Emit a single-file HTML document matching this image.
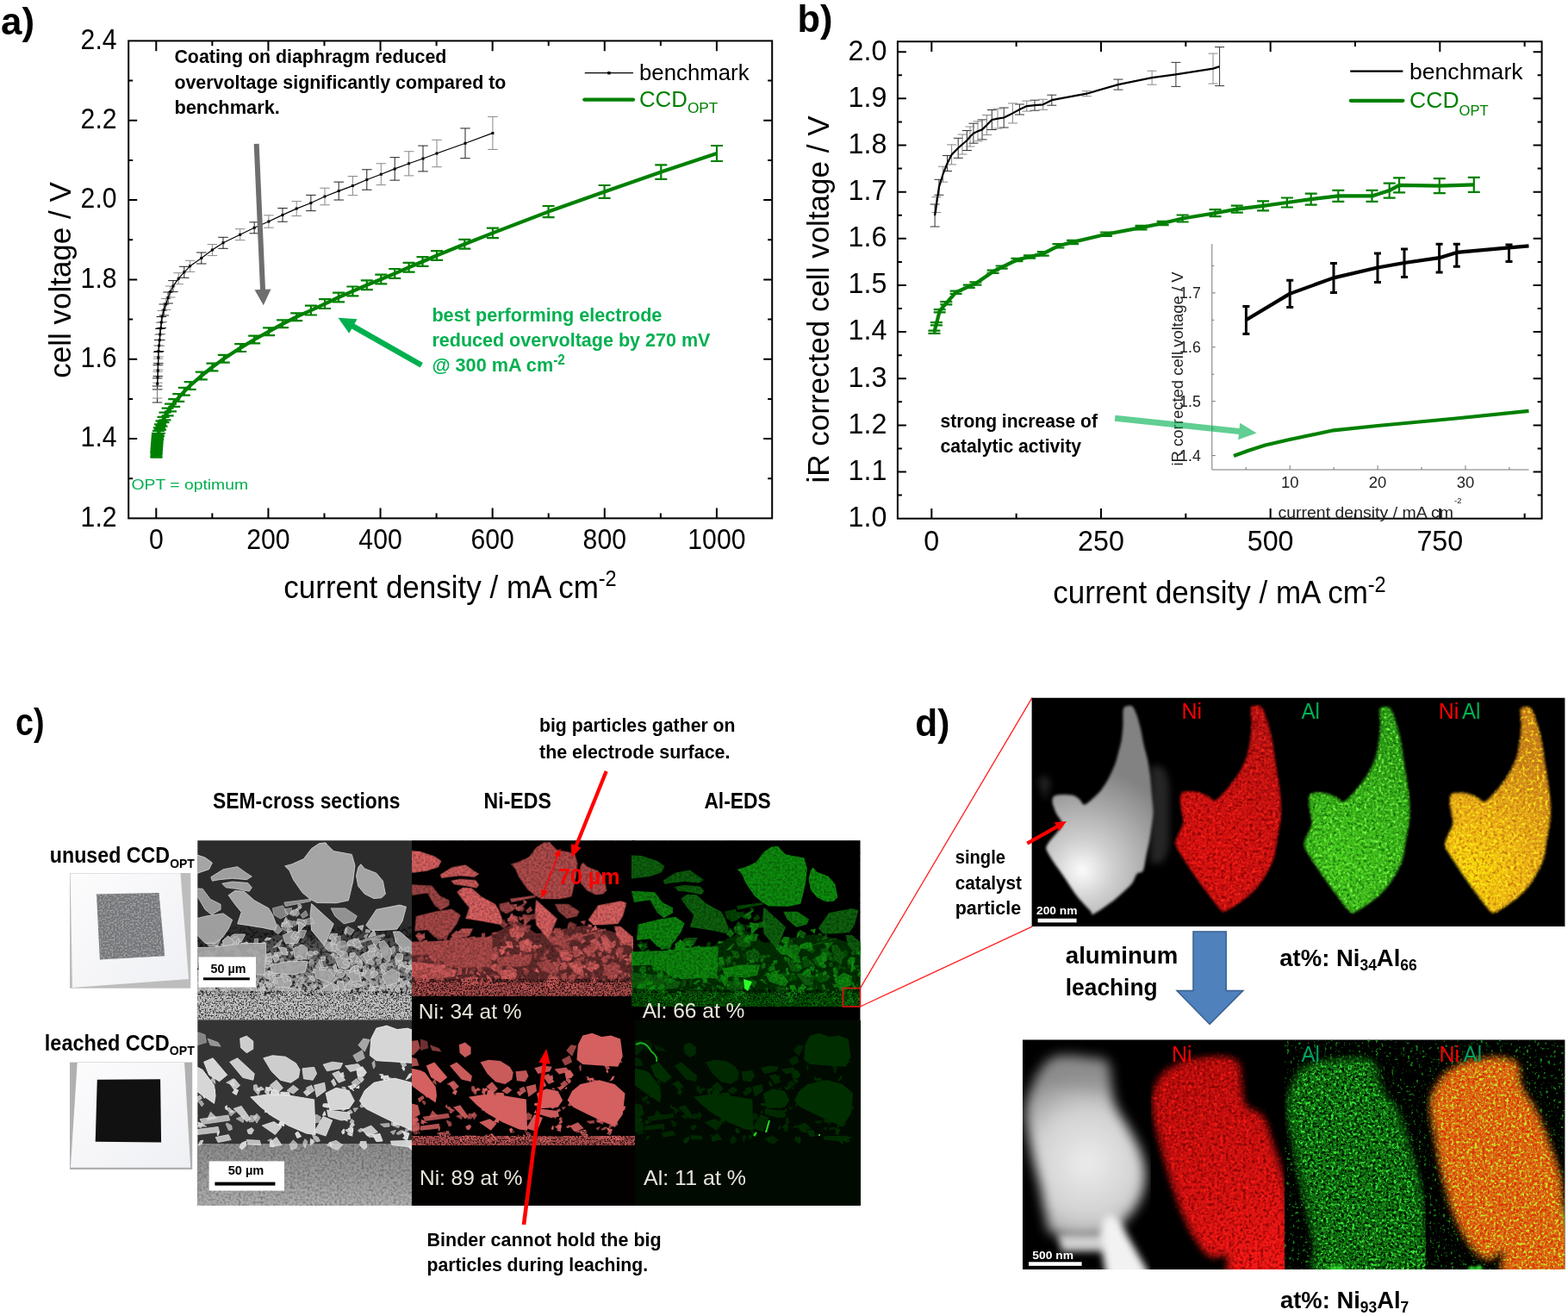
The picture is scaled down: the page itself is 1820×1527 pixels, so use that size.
<!DOCTYPE html>
<html lang="en"><head><meta charset="utf-8"><title>Figure</title>
<style>
html,body{margin:0;padding:0;background:#fff}
body{width:1820px;height:1527px;overflow:hidden}
svg{display:block}
.ar{font-family:"Liberation Sans",sans-serif}
.cb{font-family:"Liberation Sans",sans-serif;font-weight:bold}
.cr{font-family:"Liberation Sans",sans-serif}
</style></head><body>
<svg width="1820" height="1527" viewBox="0 0 1820 1527">
<rect width="1820" height="1527" fill="#fff"/>
<g id="panel-a">
<rect x="149.2" y="47.4" width="747" height="554" fill="none" stroke="#000" stroke-width="2"/>
<path d="M181.3 601.4v-11.8 M181.3 47.4v11.8 M311.42 601.4v-11.8 M311.42 47.4v11.8 M441.54 601.4v-11.8 M441.54 47.4v11.8 M571.66 601.4v-11.8 M571.66 47.4v11.8 M701.78 601.4v-11.8 M701.78 47.4v11.8 M831.9 601.4v-11.8 M831.9 47.4v11.8 M246.36 601.4v-5.9 M246.36 47.4v5.9 M376.48 601.4v-5.9 M376.48 47.4v5.9 M506.6 601.4v-5.9 M506.6 47.4v5.9 M636.72 601.4v-5.9 M636.72 47.4v5.9 M766.84 601.4v-5.9 M766.84 47.4v5.9 M149.2 509.07h10 M896.2 509.07h-10 M149.2 416.73h10 M896.2 416.73h-10 M149.2 324.4h10 M896.2 324.4h-10 M149.2 232.06h10 M896.2 232.06h-10 M149.2 139.73h10 M896.2 139.73h-10 M149.2 555.23h5 M896.2 555.23h-5 M149.2 462.9h5 M896.2 462.9h-5 M149.2 370.56h5 M896.2 370.56h-5 M149.2 278.23h5 M896.2 278.23h-5 M149.2 185.9h5 M896.2 185.9h-5 M149.2 93.56h5 M896.2 93.56h-5" stroke="#000" stroke-width="2" fill="none"/>
<text font-size="30.2" class="ar" text-anchor="end" transform="translate(135.6 610.5) scale(1 1.075)">1.2</text>
<text font-size="30.2" class="ar" text-anchor="end" transform="translate(135.6 518.17) scale(1 1.075)">1.4</text>
<text font-size="30.2" class="ar" text-anchor="end" transform="translate(135.6 425.83) scale(1 1.075)">1.6</text>
<text font-size="30.2" class="ar" text-anchor="end" transform="translate(135.6 333.5) scale(1 1.075)">1.8</text>
<text font-size="30.2" class="ar" text-anchor="end" transform="translate(135.6 241.16) scale(1 1.075)">2.0</text>
<text font-size="30.2" class="ar" text-anchor="end" transform="translate(135.6 148.83) scale(1 1.075)">2.2</text>
<text font-size="30.2" class="ar" text-anchor="end" transform="translate(135.6 56.5) scale(1 1.075)">2.4</text>
<text font-size="30.2" class="ar" text-anchor="middle" transform="translate(181.3 636.7) scale(1 1.075)">0</text>
<text font-size="30.2" class="ar" text-anchor="middle" transform="translate(311.42 636.7) scale(1 1.075)">200</text>
<text font-size="30.2" class="ar" text-anchor="middle" transform="translate(441.54 636.7) scale(1 1.075)">400</text>
<text font-size="30.2" class="ar" text-anchor="middle" transform="translate(571.66 636.7) scale(1 1.075)">600</text>
<text font-size="30.2" class="ar" text-anchor="middle" transform="translate(701.78 636.7) scale(1 1.075)">800</text>
<text font-size="30.2" class="ar" text-anchor="middle" transform="translate(831.9 636.7) scale(1 1.075)">1000</text>
<text font-size="35" class="ar" text-anchor="middle" transform="translate(522.5 693.8) scale(1 1.08)">current density / mA cm<tspan dy="-12.5" font-size="23.5">-2</tspan></text>
<text font-size="35" class="ar" text-anchor="middle" transform="translate(82 325) rotate(-90)">cell voltage / V</text>
<path d="M182.7 438.8V451.8 M176.95 438.8h11.5 M176.95 451.8h11.5 M183.3 423.5V436.5 M177.55 423.5h11.5 M177.55 436.5h11.5 M183.8 408.5V421.5 M178.05 408.5h11.5 M178.05 421.5h11.5 M184.6 394.5V407.5 M178.85 394.5h11.5 M178.85 407.5h11.5 M185.8 381.5V394.5 M180.05 381.5h11.5 M180.05 394.5h11.5 M187.3 367.5V380.5 M181.55 367.5h11.5 M181.55 380.5h11.5 M190.3 353V366 M184.55 353h11.5 M184.55 366h11.5 M195.1 339V352 M189.35 339h11.5 M189.35 352h11.5 M200.9 325.6V338.6 M195.15 325.6h11.5 M195.15 338.6h11.5 M213.8 309.3V322.3 M208.05 309.3h11.5 M208.05 322.3h11.5 M233.8 293V306 M228.05 293h11.5 M228.05 306h11.5 M259 275.3V288.3 M253.25 275.3h11.5 M253.25 288.3h11.5 M295.2 257.79V270.81 M289.45 257.79h11.5 M289.45 270.81h11.5 M328 241.58V257.22 M322.25 241.58h11.5 M322.25 257.22h11.5 M360.9 226.36V244.64 M355.15 226.36h11.5 M355.15 244.64h11.5 M393.2 211.17V232.03 M387.45 211.17h11.5 M387.45 232.03h11.5 M425.8 196.77V220.23 M420.05 196.77h11.5 M420.05 220.23h11.5 M458.2 182.67V209.13 M452.45 182.67h11.5 M452.45 209.13h11.5 M491 169.1V198.9 M485.25 169.1h11.5 M485.25 198.9h11.5 M540 148.9V183.7 M534.25 148.9h11.5 M534.25 183.7h11.5 M182.5 448V467 M176.75 448h11.5 M176.75 467h11.5" stroke="#222" stroke-width="1" fill="none"/>
<path d="M183 431.2V444.2 M177.25 431.2h11.5 M177.25 444.2h11.5 M183.5 416.1V429.1 M177.75 416.1h11.5 M177.75 429.1h11.5 M184 400.9V413.9 M178.25 400.9h11.5 M178.25 413.9h11.5 M185.2 388.3V401.3 M179.45 388.3h11.5 M179.45 401.3h11.5 M186.5 374.4V387.4 M180.75 374.4h11.5 M180.75 387.4h11.5 M188.3 360.5V373.5 M182.55 360.5h11.5 M182.55 373.5h11.5 M192.6 346.5V359.5 M186.85 346.5h11.5 M186.85 359.5h11.5 M197.8 332V345 M192.05 332h11.5 M192.05 345h11.5 M207.2 316.7V329.7 M201.45 316.7h11.5 M201.45 329.7h11.5 M220.6 302.3V315.3 M214.85 302.3h11.5 M214.85 315.3h11.5 M246.4 283.6V296.6 M240.65 283.6h11.5 M240.65 296.6h11.5 M278.7 265.7V278.7 M272.95 265.7h11.5 M272.95 278.7h11.5 M311.9 249.82V264.18 M306.15 249.82h11.5 M306.15 264.18h11.5 M344.2 233.63V250.57 M338.45 233.63h11.5 M338.45 250.57h11.5 M377 218.22V237.78 M371.25 218.22h11.5 M371.25 237.78h11.5 M409.4 204.52V226.68 M403.65 204.52h11.5 M403.65 226.68h11.5 M442.3 189.78V214.62 M436.55 189.78h11.5 M436.55 214.62h11.5 M474.6 175.74V203.86 M468.85 175.74h11.5 M468.85 203.86h11.5 M507 162.28V193.72 M501.25 162.28h11.5 M501.25 193.72h11.5 M571.9 135.38V173.42 M566.15 135.38h11.5 M566.15 173.42h11.5 M182.6 452V462 M176.85 452h11.5 M176.85 462h11.5" stroke="#888" stroke-width="1" fill="none"/>
<polyline points="182.7,445.3 183,437.7 183.3,430 183.5,422.6 183.8,415 184,407.4 184.6,401 185.2,394.8 185.8,388 186.5,380.9 187.3,374 188.3,367 190.3,359.5 192.6,353 195.1,345.5 197.8,338.5 200.9,332.1 207.2,323.2 213.8,315.8 220.6,308.8 233.8,299.5 246.4,290.1 259,281.8 278.7,272.2 295.2,264.3 311.9,257 328,249.4 344.2,242.1 360.9,235.5 377,228 393.2,221.6 409.4,215.6 425.8,208.5 442.3,202.2 458.2,195.9 474.6,189.8 491,184 507,178 540,166.3 571.9,154.4" fill="none" stroke="#000" stroke-width="1.2" stroke-linejoin="round"/>
<path d="M181.2 443.8h3v3h-3z M181.5 436.2h3v3h-3z M181.8 428.5h3v3h-3z M182 421.1h3v3h-3z M182.3 413.5h3v3h-3z M182.5 405.9h3v3h-3z M183.1 399.5h3v3h-3z M183.7 393.3h3v3h-3z M184.3 386.5h3v3h-3z M185 379.4h3v3h-3z M185.8 372.5h3v3h-3z M186.8 365.5h3v3h-3z M188.8 358h3v3h-3z M191.1 351.5h3v3h-3z M193.6 344h3v3h-3z M196.3 337h3v3h-3z M199.4 330.6h3v3h-3z M205.7 321.7h3v3h-3z M212.3 314.3h3v3h-3z M219.1 307.3h3v3h-3z M232.3 298h3v3h-3z M244.9 288.6h3v3h-3z M257.5 280.3h3v3h-3z M277.2 270.7h3v3h-3z M293.7 262.8h3v3h-3z M310.4 255.5h3v3h-3z M326.5 247.9h3v3h-3z M342.7 240.6h3v3h-3z M359.4 234h3v3h-3z M375.5 226.5h3v3h-3z M391.7 220.1h3v3h-3z M407.9 214.1h3v3h-3z M424.3 207h3v3h-3z M440.8 200.7h3v3h-3z M456.7 194.4h3v3h-3z M473.1 188.3h3v3h-3z M489.5 182.5h3v3h-3z M505.5 176.5h3v3h-3z M538.5 164.8h3v3h-3z M570.4 152.9h3v3h-3z" fill="#000"/>
<path d="M181.6 524.3V530.7 M174.6 524.3h14 M174.6 530.7h14 M181.8 519.8V526.2 M174.8 519.8h14 M174.8 526.2h14 M182 515.8V522.2 M175 515.8h14 M175 522.2h14 M182.3 511.8V518.2 M175.3 511.8h14 M175.3 518.2h14 M182.6 507.8V514.2 M175.6 507.8h14 M175.6 514.2h14 M183.2 503.8V510.2 M176.2 503.8h14 M176.2 510.2h14 M184 499.8V506.2 M177 499.8h14 M177 506.2h14 M184.8 496.4V502.8 M177.8 496.4h14 M177.8 502.8h14 M186 492.3V498.7 M179 492.3h14 M179 498.7h14 M187.5 488.3V494.7 M180.5 488.3h14 M180.5 494.7h14 M189.5 483.8V490.2 M182.5 483.8h14 M182.5 490.2h14 M191.5 478.6V487.4 M184.5 478.6h14 M184.5 487.4h14 M194.6 473.6V482.4 M187.6 473.6h14 M187.6 482.4h14 M198 468.6V477.4 M191 468.6h14 M191 477.4h14 M202.2 463.1V471.9 M195.2 463.1h14 M195.2 471.9h14 M207.2 457.1V465.9 M200.2 457.1h14 M200.2 465.9h14 M213.8 449.9V458.7 M206.8 449.9h14 M206.8 458.7h14 M220.6 443.1V451.9 M213.6 443.1h14 M213.6 451.9h14 M233.8 431.6V440.4 M226.8 431.6h14 M226.8 440.4h14 M246.4 421.6V430.4 M239.4 421.6h14 M239.4 430.4h14 M259.8 411.8V420.6 M252.8 411.8h14 M252.8 420.6h14 M279.2 399.2V408 M272.2 399.2h14 M272.2 408h14 M295.2 389.6V398.4 M288.2 389.6h14 M288.2 398.4h14 M312.1 380.3V389.1 M305.1 380.3h14 M305.1 389.1h14 M328 371.4V380.2 M321 371.4h14 M321 380.2h14 M344.2 363.3V372.1 M337.2 363.3h14 M337.2 372.1h14 M360.9 354.7V365.5 M353.9 354.7h14 M353.9 365.5h14 M377 347.2V358 M370 347.2h14 M370 358h14 M393 339.6V350.4 M386 339.6h14 M386 350.4h14 M409.4 332.5V343.3 M402.4 332.5h14 M402.4 343.3h14 M425.8 325.4V336.2 M418.8 325.4h14 M418.8 336.2h14 M442.3 318.6V329.4 M435.3 318.6h14 M435.3 329.4h14 M458.2 312V322.8 M451.2 312h14 M451.2 322.8h14 M474.6 304.9V315.7 M467.6 304.9h14 M467.6 315.7h14 M490.5 298.1V308.9 M483.5 298.1h14 M483.5 308.9h14 M507 291.1V301.9 M500 291.1h14 M500 301.9h14 M539.3 277.9V288.7 M532.3 277.9h14 M532.3 288.7h14 M571.9 264.61V276.19 M564.9 264.61h14 M564.9 276.19h14 M636.6 239.01V252.19 M629.6 239.01h14 M629.6 252.19h14 M701.6 215.01V229.79 M694.6 215.01h14 M694.6 229.79h14 M767.3 191.4V207.8 M760.3 191.4h14 M760.3 207.8h14 M832 169V187 M825 169h14 M825 187h14 M181.3 525V530 M174.3 525h14 M174.3 530h14 M181.43 523.3V528.3 M174.43 523.3h14 M174.43 528.3h14 M181.56 521.6V526.6 M174.56 521.6h14 M174.56 526.6h14 M181.69 519.9V524.9 M174.69 519.9h14 M174.69 524.9h14 M181.82 518.2V523.2 M174.82 518.2h14 M174.82 523.2h14 M181.95 516.5V521.5 M174.95 516.5h14 M174.95 521.5h14 M182.08 514.8V519.8 M175.08 514.8h14 M175.08 519.8h14 M182.21 513.1V518.1 M175.21 513.1h14 M175.21 518.1h14 M182.34 511.4V516.4 M175.34 511.4h14 M175.34 516.4h14 M182.47 509.7V514.7 M175.47 509.7h14 M175.47 514.7h14 M182.6 508V513 M175.6 508h14 M175.6 513h14 M182.73 506.3V511.3 M175.73 506.3h14 M175.73 511.3h14 M182.86 504.6V509.6 M175.86 504.6h14 M175.86 509.6h14 M182.99 502.9V507.9 M175.99 502.9h14 M175.99 507.9h14" stroke="#008000" stroke-width="2.2" fill="none"/>
<polyline points="181.6,527.5 181.8,523 182,519 182.3,515 182.6,511 183.2,507 184,503 184.8,499.6 186,495.5 187.5,491.5 189.5,487 191.5,483 194.6,478 198,473 202.2,467.5 207.2,461.5 213.8,454.3 220.6,447.5 233.8,436 246.4,426 259.8,416.2 279.2,403.6 295.2,394 312.1,384.7 328,375.8 344.2,367.7 360.9,360.1 377,352.6 393,345 409.4,337.9 425.8,330.8 442.3,324 458.2,317.4 474.6,310.3 490.5,303.5 507,296.5 539.3,283.3 571.9,270.4 636.6,245.6 701.6,222.4 767.3,199.6 832,178" fill="none" stroke="#008000" stroke-width="4.2" stroke-linejoin="round"/>
<path d="M678.8 84.7H735" stroke="#000" stroke-width="1.3"/><rect x="705.2" y="83" width="3.4" height="3.4" fill="#000"/>
<path d="M678.3 115.7H735" stroke="#008000" stroke-width="4.2" stroke-linecap="round"/>
<text font-size="25.8" class="ar" transform="translate(742 93.2) scale(1 0.98)">benchmark</text>
<text font-size="25.8" class="ar" fill="#008000" transform="translate(742 124) scale(1 0.98)">CCD<tspan dy="7.2" font-size="17.3">OPT</tspan></text>
<text x="202.4" y="73.3" font-size="22.5" class="cb" textLength="316" lengthAdjust="spacingAndGlyphs">Coating on diaphragm reduced</text>
<text x="202.4" y="102.6" font-size="22.5" class="cb" textLength="385" lengthAdjust="spacingAndGlyphs">overvoltage significantly compared to</text>
<text x="202.4" y="131.9" font-size="22.5" class="cb" textLength="122.5" lengthAdjust="spacingAndGlyphs">benchmark.</text>
<polygon points="294.7,166.93 302,335.95 295.51,336.23 305.8,354.3 314.49,335.41 308,335.69 300.7,166.67" fill="#6e6e6e"/>
<polygon points="490.91,420.98 411.49,375.77 414.58,370.34 392.5,368.7 405.18,386.85 408.27,381.42 487.69,426.62" fill="#00b050"/>
<text x="501.4" y="372.5" font-size="22.5" class="cb" fill="#00b050" textLength="267" lengthAdjust="spacingAndGlyphs">best performing electrode</text>
<text x="501.4" y="401.8" font-size="22.5" class="cb" fill="#00b050" textLength="323" lengthAdjust="spacingAndGlyphs">reduced overvoltage by 270 mV</text>
<text x="501.4" y="431.4" font-size="22.5" class="cb" fill="#00b050" textLength="154.5" lengthAdjust="spacingAndGlyphs">@ 300 mA cm<tspan dy="-8" font-size="16">-2</tspan></text>
<text x="152.5" y="568.4" font-size="17" class="cr" fill="#00b050" textLength="135.5" lengthAdjust="spacingAndGlyphs">OPT = optimum</text>
<text x="1" y="39.5" font-size="44" class="cb" textLength="39" lengthAdjust="spacingAndGlyphs">a)</text>
</g>
<g id="panel-b">
<rect x="1041.9" y="48.2" width="747.7" height="553.5" fill="none" stroke="#000" stroke-width="2"/>
<path d="M1081.3 601.7v-11.8 M1081.3 48.2v11.8 M1277.97 601.7v-11.8 M1277.97 48.2v11.8 M1474.65 601.7v-11.8 M1474.65 48.2v11.8 M1671.32 601.7v-11.8 M1671.32 48.2v11.8 M1179.64 601.7v-5.9 M1179.64 48.2v5.9 M1376.31 601.7v-5.9 M1376.31 48.2v5.9 M1572.99 601.7v-5.9 M1572.99 48.2v5.9 M1769.66 601.7v-5.9 M1769.66 48.2v5.9 M1041.9 547.55h10 M1789.6 547.55h-10 M1041.9 493.4h10 M1789.6 493.4h-10 M1041.9 439.25h10 M1789.6 439.25h-10 M1041.9 385.1h10 M1789.6 385.1h-10 M1041.9 330.95h10 M1789.6 330.95h-10 M1041.9 276.8h10 M1789.6 276.8h-10 M1041.9 222.65h10 M1789.6 222.65h-10 M1041.9 168.5h10 M1789.6 168.5h-10 M1041.9 114.35h10 M1789.6 114.35h-10 M1041.9 60.2h10 M1789.6 60.2h-10 M1041.9 574.62h5 M1789.6 574.62h-5 M1041.9 520.48h5 M1789.6 520.48h-5 M1041.9 466.33h5 M1789.6 466.33h-5 M1041.9 412.18h5 M1789.6 412.18h-5 M1041.9 358.02h5 M1789.6 358.02h-5 M1041.9 303.88h5 M1789.6 303.88h-5 M1041.9 249.72h5 M1789.6 249.72h-5 M1041.9 195.58h5 M1789.6 195.58h-5 M1041.9 141.42h5 M1789.6 141.42h-5 M1041.9 87.27h5 M1789.6 87.27h-5" stroke="#000" stroke-width="2" fill="none"/>
<text font-size="32.3" class="ar" text-anchor="end" transform="translate(1029.4 611) scale(1 1.045)">1.0</text>
<text font-size="32.3" class="ar" text-anchor="end" transform="translate(1029.4 556.85) scale(1 1.045)">1.1</text>
<text font-size="32.3" class="ar" text-anchor="end" transform="translate(1029.4 502.7) scale(1 1.045)">1.2</text>
<text font-size="32.3" class="ar" text-anchor="end" transform="translate(1029.4 448.55) scale(1 1.045)">1.3</text>
<text font-size="32.3" class="ar" text-anchor="end" transform="translate(1029.4 394.4) scale(1 1.045)">1.4</text>
<text font-size="32.3" class="ar" text-anchor="end" transform="translate(1029.4 340.25) scale(1 1.045)">1.5</text>
<text font-size="32.3" class="ar" text-anchor="end" transform="translate(1029.4 286.1) scale(1 1.045)">1.6</text>
<text font-size="32.3" class="ar" text-anchor="end" transform="translate(1029.4 231.95) scale(1 1.045)">1.7</text>
<text font-size="32.3" class="ar" text-anchor="end" transform="translate(1029.4 177.8) scale(1 1.045)">1.8</text>
<text font-size="32.3" class="ar" text-anchor="end" transform="translate(1029.4 123.65) scale(1 1.045)">1.9</text>
<text font-size="32.3" class="ar" text-anchor="end" transform="translate(1029.4 69.5) scale(1 1.045)">2.0</text>
<text font-size="32.3" class="ar" text-anchor="middle" transform="translate(1081.3 638.7) scale(1 1.045)">0</text>
<text font-size="32.3" class="ar" text-anchor="middle" transform="translate(1277.97 638.7) scale(1 1.045)">250</text>
<text font-size="32.3" class="ar" text-anchor="middle" transform="translate(1474.65 638.7) scale(1 1.045)">500</text>
<text font-size="32.3" class="ar" text-anchor="middle" transform="translate(1671.32 638.7) scale(1 1.045)">750</text>
<text font-size="35" class="ar" text-anchor="middle" transform="translate(1415.5 700) scale(1 1.08)">current density / mA cm<tspan dy="-12.5" font-size="23.5">-2</tspan></text>
<text font-size="35" class="ar" text-anchor="middle" transform="translate(961.8 347.5) rotate(-90)">iR corrected cell voltage / V</text>
<path d="M1085.1 237V263 M1079.6 237h11 M1079.6 263h11 M1089.9 208.3V226.3 M1084.4 208.3h11 M1084.4 226.3h11 M1099.5 180.5V198.5 M1094 180.5h11 M1094 198.5h11 M1112.2 160.3V183.3 M1106.7 160.3h11 M1106.7 183.3h11 M1122.3 151.5V174.5 M1116.8 151.5h11 M1116.8 174.5h11 M1129.9 143.2V166.2 M1124.4 143.2h11 M1124.4 166.2h11 M1140 138.9V161.9 M1134.5 138.9h11 M1134.5 161.9h11 M1151.3 127.5V150.5 M1145.8 127.5h11 M1145.8 150.5h11 M1165.2 125V148 M1159.7 125h11 M1159.7 148h11 M1183.5 121V133 M1178 121h11 M1178 133h11 M1201 116.2V128.2 M1195.5 116.2h11 M1195.5 128.2h11 M1220.8 110.2V122.2 M1215.3 110.2h11 M1215.3 122.2h11 M1297.9 92.1V104.1 M1292.4 92.1h11 M1292.4 104.1h11 M1364.9 72.4V100.4 M1359.4 72.4h11 M1359.4 100.4h11 M1415.6 54.6V99.6 M1410.1 54.6h11 M1410.1 99.6h11" stroke="#333" stroke-width="1" fill="none"/>
<path d="M1086.9 228.6V246.6 M1081.4 228.6h11 M1081.4 246.6h11 M1094.5 193.2V211.2 M1089 193.2h11 M1089 211.2h11 M1104.6 167.9V190.9 M1099.1 167.9h11 M1099.1 190.9h11 M1117 156V179 M1111.5 156h11 M1111.5 179h11 M1126 147V170 M1120.5 147h11 M1120.5 170h11 M1135 140.8V163.8 M1129.5 140.8h11 M1129.5 163.8h11 M1145.5 133.5V156.5 M1140 133.5h11 M1140 156.5h11 M1158 126.1V149.1 M1152.5 126.1h11 M1152.5 149.1h11 M1175.4 119.9V142.9 M1169.9 119.9h11 M1169.9 142.9h11 M1191.8 117.1V129.1 M1186.3 117.1h11 M1186.3 129.1h11 M1210.7 115.3V127.3 M1205.2 115.3h11 M1205.2 127.3h11 M1261.3 105.7V111.7 M1255.8 105.7h11 M1255.8 111.7h11 M1337.1 82.2V98.2 M1331.6 82.2h11 M1331.6 98.2h11 M1408 62.1V97.1 M1402.5 62.1h11 M1402.5 97.1h11" stroke="#888" stroke-width="1" fill="none"/>
<polyline points="1085.1,250.2 1086.9,237.6 1089.9,217.3 1094.5,202.2 1099.5,189.5 1104.6,179.4 1112.2,171.8 1117,167.5 1122.3,163 1126,158.5 1129.9,154.7 1135,152.3 1140,150.4 1145.5,145 1151.3,139 1158,137.6 1165.2,136.5 1175.4,131.4 1183.5,127 1191.8,123.1 1201,122.2 1210.7,121.3 1220.8,116.2 1261.3,108.7 1297.9,98.1 1337.1,90.2 1364.9,86.4 1408,79.6 1415.6,77.1" fill="none" stroke="#000" stroke-width="2.2" stroke-linejoin="round"/>
<path d="M1084.4 383.6V386.8 M1077.4 383.6h14 M1077.4 386.8h14 M1086.9 374.2V377.4 M1079.9 374.2h14 M1079.9 377.4h14 M1090.7 359.1V362.3 M1083.7 359.1h14 M1083.7 362.3h14 M1098.3 350.2V353.4 M1091.3 350.2h14 M1091.3 353.4h14 M1109.6 337.6V340.8 M1102.6 337.6h14 M1102.6 340.8h14 M1124.8 330.7V333.9 M1117.8 330.7h14 M1117.8 333.9h14 M1132.4 327.4V330.6 M1125.4 327.4h14 M1125.4 330.6h14 M1152.6 313.6V316.8 M1145.6 313.6h14 M1145.6 316.8h14 M1162.7 308.5V311.7 M1155.7 308.5h14 M1155.7 311.7h14 M1180.4 299.9V303.1 M1173.4 299.9h14 M1173.4 303.1h14 M1195 296.4V299.6 M1188 296.4h14 M1188 299.6h14 M1210.7 292.2V296.6 M1203.7 292.2h14 M1203.7 296.6h14 M1228.4 283.1V287.5 M1221.4 283.1h14 M1221.4 287.5h14 M1245 278.8V283.2 M1238 278.8h14 M1238 283.2h14 M1284 269.5V273.9 M1277 269.5h14 M1277 273.9h14 M1324.5 261.9V266.3 M1317.5 261.9h14 M1317.5 266.3h14 M1349.7 256.8V261.2 M1342.7 256.8h14 M1342.7 261.2h14 M1372.6 249.5V257.5 M1365.6 249.5h14 M1365.6 257.5h14 M1410.5 243.2V251.2 M1403.5 243.2h14 M1403.5 251.2h14 M1435.8 238.6V246.6 M1428.8 238.6h14 M1428.8 246.6h14 M1466.1 233.3V244.3 M1459.1 233.3h14 M1459.1 244.3h14 M1493.9 229.5V240.5 M1486.9 229.5h14 M1486.9 240.5h14 M1521.7 224.7V237.7 M1514.7 224.7h14 M1514.7 237.7h14 M1553.3 220.9V233.9 M1546.3 220.9h14 M1546.3 233.9h14 M1592.5 220.9V233.9 M1585.5 220.9h14 M1585.5 233.9h14 M1612.7 212.6V229.6 M1605.7 212.6h14 M1605.7 229.6h14 M1624.1 206.3V223.3 M1617.1 206.3h14 M1617.1 223.3h14 M1670.8 207.1V224.1 M1663.8 207.1h14 M1663.8 224.1h14 M1710.8 205.8V222.8 M1703.8 205.8h14 M1703.8 222.8h14" stroke="#008000" stroke-width="2.2" fill="none"/>
<polyline points="1084.4,385.2 1086.9,375.8 1090.7,360.7 1098.3,351.8 1109.6,339.2 1124.8,332.3 1132.4,329 1152.6,315.2 1162.7,310.1 1180.4,301.5 1195,298 1210.7,294.4 1228.4,285.3 1245,281 1284,271.7 1324.5,264.1 1349.7,259 1372.6,253.5 1410.5,247.2 1435.8,242.6 1466.1,238.8 1493.9,235 1521.7,231.2 1553.3,227.4 1592.5,227.4 1612.7,221.1 1624.1,214.8 1670.8,215.6 1710.8,214.3" fill="none" stroke="#008000" stroke-width="4.2" stroke-linejoin="round"/>
<path d="M1567.2 82.6H1628.4" stroke="#000" stroke-width="2.2"/>
<path d="M1567.8 116.8H1628.4" stroke="#008000" stroke-width="4.2" stroke-linecap="round"/>
<text font-size="26.6" class="ar" transform="translate(1636 91.5) scale(1 0.98)">benchmark</text>
<text font-size="26.6" class="ar" fill="#008000" transform="translate(1636 124.6) scale(1 0.98)">CCD<tspan dy="9.5" font-size="16.6">OPT</tspan></text>
<text x="1091.5" y="495.9" font-size="22.5" class="cb" textLength="182.5" lengthAdjust="spacingAndGlyphs">strong increase of</text>
<text x="1091.5" y="524.9" font-size="22.5" class="cb" textLength="163.5" lengthAdjust="spacingAndGlyphs">catalytic activity</text>
<g id="inset">
<path d="M1406.8 283V545H1774.5 M1497.2 545v-5 M1599.1 545v-5 M1701 545v-5 M1446.25 545v-3 M1548.15 545v-3 M1650.05 545v-3 M1751.95 545v-3 M1406.8 528.6h4 M1406.8 465.7h4 M1406.8 402.8h4 M1406.8 339.9h4 M1406.8 497.15h2.5 M1406.8 434.25h2.5 M1406.8 371.35h2.5 M1406.8 308.45h2.5" stroke="#777" stroke-width="1" fill="none"/>
<text x="1497.2" y="566.3" font-size="18.5" class="ar" fill="#222" text-anchor="middle">10</text>
<text x="1599.1" y="566.3" font-size="18.5" class="ar" fill="#222" text-anchor="middle">20</text>
<text x="1701" y="566.3" font-size="18.5" class="ar" fill="#222" text-anchor="middle">30</text>
<text x="1393.8" y="535.1" font-size="17.8" class="ar" fill="#222" text-anchor="end">1.4</text>
<text x="1393.8" y="472.2" font-size="17.8" class="ar" fill="#222" text-anchor="end">1.5</text>
<text x="1393.8" y="409.3" font-size="17.8" class="ar" fill="#222" text-anchor="end">1.6</text>
<text x="1393.8" y="346.4" font-size="17.8" class="ar" fill="#222" text-anchor="end">1.7</text>
<text x="1483.5" y="600.6" font-size="18.5" class="ar" fill="#222" textLength="203.5" lengthAdjust="spacingAndGlyphs">current density / mA cm</text>
<text x="1688" y="583.5" font-size="9.5" class="ar" fill="#222">-2</text>
<text font-size="18.5" class="ar" fill="#222" text-anchor="middle" transform="translate(1372.5 428) rotate(-90)">iR corrected cell voltage / V</text>
<path d="M1446.4 355.5V387.6 M1442.4 355.5h8 M1442.4 387.6h8 M1497.2 325.2V356.5 M1493.2 325.2h8 M1493.2 356.5h8 M1548 305.5V339.6 M1544 305.5h8 M1544 339.6h8 M1599 294V327.5 M1595 294h8 M1595 327.5h8 M1630 289V321.4 M1626 289h8 M1626 321.4h8 M1670.6 283.2V316 M1666.6 283.2h8 M1666.6 316h8 M1690.8 283.2V309.3 M1686.8 283.2h8 M1686.8 309.3h8 M1751.5 284V303.5 M1747.5 284h8 M1747.5 303.5h8" stroke="#000" stroke-width="3" fill="none"/>
<polyline points="1446.4,371.2 1497,340.9 1548,322.4 1599,310.5 1630,305 1670.6,299.2 1690.8,292.9 1751.5,287.3 1774.5,285.3" fill="none" stroke="#000" stroke-width="4.2" stroke-linejoin="round"/>
<polyline points="1432,529 1450,522.5 1468.7,516.5 1497,510 1548,499.3 1599,494 1690,485.5 1774.5,476.8" fill="none" stroke="#008000" stroke-width="4.2" stroke-linejoin="round"/>
</g>
<polygon points="1293.73,488.68 1437.85,503.92 1437.19,510.14 1458.6,502.6 1439.24,490.75 1438.58,496.96 1294.47,481.72" fill="#00b050" opacity="0.62"/>
<text x="925.5" y="36.5" font-size="44" class="cb" textLength="41" lengthAdjust="spacingAndGlyphs">b)</text>
</g>
<defs>
<filter id="grain" x="0" y="0" width="100%" height="100%" color-interpolation-filters="sRGB">
<feTurbulence type="fractalNoise" baseFrequency="0.55" numOctaves="2" seed="4"/>
<feColorMatrix type="matrix" values="0 0 0 0 0  0 0 0 0 0  0 0 0 0 0  3.2 3.2 0 0 -3.0"/>
</filter>
<filter id="grain2" x="0" y="0" width="100%" height="100%" color-interpolation-filters="sRGB">
<feTurbulence type="fractalNoise" baseFrequency="0.28" numOctaves="2" seed="19"/>
<feColorMatrix type="matrix" values="0 0 0 0 0.08  0 0 0 0 0.08  0 0 0 0 0.08  4 4 0 0 -3.9"/>
</filter>
<filter id="grainw" x="0" y="0" width="100%" height="100%" color-interpolation-filters="sRGB">
<feTurbulence type="fractalNoise" baseFrequency="0.5" numOctaves="2" seed="11"/>
<feColorMatrix type="matrix" values="0 0 0 0 1  0 0 0 0 1  0 0 0 0 1  3.2 3.2 0 0 -2.9"/>
</filter>
<filter id="soft" x="0" y="0" width="100%" height="100%" color-interpolation-filters="sRGB">
<feTurbulence type="fractalNoise" baseFrequency="0.35" numOctaves="2" seed="7"/>
<feColorMatrix type="matrix" values="0 0 0 0 0  0 0 0 0 0  0 0 0 0 0  1.6 1.6 0 0 -1.35"/>
</filter>
<filter id="spk" x="0" y="0" width="100%" height="100%" color-interpolation-filters="sRGB">
<feTurbulence type="fractalNoise" baseFrequency="0.3" numOctaves="2" seed="21"/>
<feColorMatrix type="matrix" values="0 0 0 0 0  0 0 0 0 0  0 0 0 0 0  4 4 0 0 -3.7"/>
</filter>
<filter id="spkg" x="0" y="0" width="100%" height="100%" color-interpolation-filters="sRGB">
<feTurbulence type="fractalNoise" baseFrequency="0.32" numOctaves="2" seed="33"/>
<feColorMatrix type="matrix" values="0 0 0 0 0.35  0 0 0 0 1  0 0 0 0 0.2  5 5 0 0 -5.1"/>
</filter>
<filter id="b1" x="-10%" y="-10%" width="120%" height="120%"><feGaussianBlur stdDeviation="0.6"/></filter>
<filter id="b2" x="-10%" y="-10%" width="120%" height="120%"><feGaussianBlur stdDeviation="1.6"/></filter>
<filter id="b4" x="-20%" y="-20%" width="140%" height="140%"><feGaussianBlur stdDeviation="4"/></filter>
<filter id="b8" x="-20%" y="-20%" width="140%" height="140%"><feGaussianBlur stdDeviation="7"/></filter>
<polygon id="bed1" points="150,1100 229,1100 300,1095 320,1085 340,1075 362,1090 390,1085 420,1080 445,1085 478,1095 500,1100 500,1165 150,1165"/>
<linearGradient id="gbed" gradientUnits="userSpaceOnUse" x1="0" y1="1085" x2="0" y2="1160"><stop offset="0" stop-color="#b8b8b8" stop-opacity=".15"/><stop offset=".6" stop-color="#b8b8b8" stop-opacity=".6"/><stop offset="1" stop-color="#c4c4c4" stop-opacity="1"/></linearGradient>
<g id="s1b">
<polygon points="391.3,1125.9 386.6,1135.4 381.2,1124.4" opacity="0.8"/>
<polygon points="424.8,1153.6 428.2,1151.8 430.2,1157.5 426.1,1158.2"/>
<polygon points="434.1,1078.8 436,1085.3 427.6,1087.5"/>
<polygon points="289.3,1122 292.4,1121.8 292.7,1126.2 288.6,1126.2" opacity="0.7"/>
<polygon points="485.8,1110 483.4,1109.2 482,1106.2 486.1,1106.1 487.9,1108.5"/>
<polygon points="350.5,1107.2 345.9,1103.8 348.9,1096.5 355.2,1102.1" opacity="0.9"/>
<polygon points="313.2,1111.6 316.8,1118.7 310.7,1123.3 305.6,1121.4 305.3,1114.3" opacity="0.8"/>
<polygon points="279.6,1126.4 271.7,1127 276.9,1116.6"/>
<polygon points="482.4,1103.1 481.6,1108.6 478.7,1109.8 478.8,1103.4" opacity="0.9"/>
<polygon points="301,1140.8 303.4,1140.7 308.5,1147.5 306.3,1149.9 302.4,1147.1" opacity="0.9"/>
<polygon points="348.3,1105.7 349.2,1110.3 347.3,1109.9 344.2,1105.8 345.5,1104.1" opacity="0.7"/>
<polygon points="337,1140.9 330.9,1142 328.2,1135.2 331.3,1131.5 337.8,1134.5" opacity="0.9"/>
<polygon points="330.6,1105.7 329.3,1104.5 332.4,1103.9 334.7,1105.2"/>
<polygon points="227.1,1114.4 228.4,1107.9 234.8,1103.9 231.5,1112.5" opacity="0.8"/>
<polygon points="341.6,1084.8 338.6,1089.5 339.5,1084.7" opacity="0.8"/>
<polygon points="463.2,1097.5 464.2,1095.7 467.1,1097.8 468,1101.1 464.7,1100.9" opacity="0.9"/>
<polygon points="261.5,1100.9 266.7,1094.2 275.9,1096.1 272.7,1102.5" opacity="0.8"/>
<polygon points="220.3,1101.1 214.8,1092.3 219.1,1088.2 227,1094.5" opacity="0.7"/>
<polygon points="402.8,1151.4 401.5,1158.4 398.9,1158.2 396.6,1152.6 400.5,1147.2" opacity="0.9"/>
<polygon points="224.4,1155 226.7,1154.7 227.7,1157.5 225.9,1158.3 222.4,1158" opacity="0.8"/>
<polygon points="346.7,1135 344.1,1133 347.2,1131.7 351.5,1133.7 351,1135.3" opacity="0.7"/>
<polygon points="389.7,1132.6 393.1,1127 399.8,1128.4 399.1,1133.2 390.9,1135.1" opacity="0.8"/>
<polygon points="331.4,1074.7 331.7,1063.9 340,1075.8" opacity="0.8"/>
<polygon points="481.4,1110 483.5,1110.3 484,1112.5 481.3,1113 478.6,1111.7" opacity="0.8"/>
<polygon points="433.5,1134.9 429.9,1133.6 432.1,1127.2 437.7,1127.1 438.6,1130.6"/>
<polygon points="362.3,1132 365.9,1138.7 359.1,1135.9"/>
<polygon points="349.8,1053.2 346.1,1052.5 346,1048.6 349.9,1050.2" opacity="0.8"/>
<polygon points="386.9,1146.1 389.4,1148.4 386.5,1149.4 383.2,1148.2 383.1,1146.5"/>
<polygon points="335.5,1079.5 334.2,1082.1 333.2,1080 334.3,1076.1"/>
<polygon points="411.4,1139.9 417.3,1131.6 420.7,1143.9" opacity="0.7"/>
<polygon points="348.6,1157.5 347.2,1146.7 354,1151.3" opacity="0.9"/>
<polygon points="485.8,1105.2 481,1109.4 476.6,1105.9 479.8,1103.7" opacity="0.8"/>
<polygon points="375.3,1143.2 381.5,1136.7 381,1143.5" opacity="0.7"/>
<polygon points="326.6,1075.2 327.2,1070.8 335.1,1069.7 334.6,1074"/>
<polygon points="292.7,1148.1 297.2,1143.3 298.8,1154.1"/>
<polygon points="299.8,1089.2 299.3,1096.8 294.4,1099.3 295.5,1089.5" opacity="0.7"/>
<polygon points="227.7,1126.8 229.4,1128.2 226.3,1131.2 223.9,1129.7" opacity="0.7"/>
<polygon points="227.7,1144 223.6,1136.6 229.5,1136.6" opacity="0.7"/>
<polygon points="244.5,1130.9 247.1,1126.8 251.6,1129.4 248.7,1134.4" opacity="0.9"/>
<polygon points="267.4,1103.9 262.1,1105.1 256.1,1095.2 261.4,1095.5" opacity="0.8"/>
<polygon points="429.4,1079.5 429.2,1081.8 424.5,1081.8 424.8,1078.5" opacity="0.9"/>
<polygon points="431.3,1142.4 434.7,1148.7 431.5,1151" opacity="0.9"/>
<polygon points="329.8,1073.2 335.3,1067.6 339.6,1069.4 340,1075.4 331.3,1076.2" opacity="0.7"/>
<polygon points="346.7,1156.3 341.5,1157.6 335,1152.5 338.2,1149.9 342.3,1151.6"/>
<polygon points="454.6,1108.2 452.7,1100.8 457.7,1097.8 458.6,1103.9" opacity="0.8"/>
<polygon points="413.8,1107.9 415.1,1117.3 407.9,1119.8 405.8,1111.3" opacity="0.7"/>
<polygon points="241,1111.5 236.9,1110.6 237.1,1103.9 243.5,1102.6 246.2,1106.3" opacity="0.8"/>
<polygon points="227.5,1149.9 216.1,1150.8 213.2,1144.3 222.4,1139.9" opacity="0.7"/>
<polygon points="290.1,1106.3 286.8,1103.9 290.2,1099.7 293.9,1102.7"/>
<polygon points="442,1117.3 437.7,1118.4 436.7,1113 441.7,1112.8" opacity="0.7"/>
<polygon points="318.1,1105.8 330.1,1104.6 320.7,1112.5" opacity="0.9"/>
<polygon points="224.1,1098.7 229,1097.6 229.5,1101.4 225.3,1106.4 222.7,1103.6" opacity="0.9"/>
<polygon points="381.7,1147.2 379.4,1150.7 376.3,1148.5 375.6,1144.2 379.3,1143.4"/>
<polygon points="340.8,1062.8 336.5,1060.7 338.3,1057 343.9,1056.7 344.6,1059.3" opacity="0.9"/>
<polygon points="464,1104.7 463,1100.8 466.2,1098.9 468.4,1101.1 466,1104.9" opacity="0.9"/>
<polygon points="404.2,1131.7 407,1128 409.9,1130 407.2,1134.1" opacity="0.9"/>
<polygon points="289.1,1096.4 286.1,1096.9 285.6,1092.4" opacity="0.7"/>
<polygon points="271.8,1122.7 267.1,1121.7 272.7,1115.9 275.5,1118.5"/>
<polygon points="476.4,1157 475.3,1161.2 473,1158.5" opacity="0.9"/>
<polygon points="288.9,1139.1 289.9,1136.4 293.9,1139.9 293.7,1142.2" opacity="0.9"/>
<polygon points="351.4,1065.4 349,1061.6 354.9,1056.6 357.3,1061.9" opacity="0.7"/>
<polygon points="339.8,1100.4 335.1,1097.5 338.8,1090.9" opacity="0.7"/>
<polygon points="353.6,1115.4 355.8,1120.7 345.4,1120.2" opacity="0.9"/>
<polygon points="385.2,1098.8 387.3,1095.1 390.8,1096.1 387.2,1100" opacity="0.8"/>
<polygon points="257.7,1129.8 250.2,1129.5 249.5,1121.7 256.2,1123.4" opacity="0.9"/>
<polygon points="400.9,1125 395.1,1121.9 400.8,1116.4 405.3,1119.6" opacity="0.8"/>
<polygon points="220.6,1148.6 225.9,1142.2 234.5,1143.4 230.2,1150.7"/>
<polygon points="299.1,1154.1 302.9,1145.9 307.4,1144.8 305.8,1154.7" opacity="0.9"/>
<polygon points="421.7,1132.4 414.7,1132.3 413.2,1129.2 418.5,1127.9 423.9,1129.5" opacity="0.8"/>
<polygon points="299.6,1110.9 302.2,1116.2 299.9,1116.4 294,1111.9 295.9,1109.3" opacity="0.7"/>
<polygon points="478.3,1125.4 467.1,1121.7 479.7,1119.8" opacity="0.9"/>
<polygon points="249.9,1113 239.8,1112.3 245.1,1104.1" opacity="0.9"/>
<polygon points="422.4,1086.1 426.7,1083.7 424.9,1089.4" opacity="0.8"/>
<polygon points="390.7,1116.9 396.8,1111.8 397,1114.3 392.4,1118.6"/>
<polygon points="267.5,1131.9 271.6,1132.9 270.7,1140.5 265.1,1141.3" opacity="0.7"/>
<polygon points="237.5,1113 245.3,1116.4 238.6,1126 230.5,1118.8" opacity="0.8"/>
<polygon points="265.3,1136.4 261.2,1138.8 263.3,1134.6" opacity="0.7"/>
<polygon points="275.9,1110.2 271.2,1106.1 275.8,1100.7 280,1108" opacity="0.9"/>
<polygon points="496.1,1139 492,1140.3 484.9,1137.7 482.6,1132.1 492.8,1134.3" opacity="0.8"/>
<polygon points="250.3,1148 244.2,1152.6 240.2,1147.3 245.5,1140.1" opacity="0.7"/>
<polygon points="478.2,1134.7 482.4,1130 480.5,1136.1" opacity="0.9"/>
<polygon points="336.9,1091 341.8,1082.9 345.6,1089.2 339.8,1097.6"/>
<polygon points="254.7,1149.7 260.3,1147.8 260.4,1154.9" opacity="0.8"/>
<polygon points="332.1,1100.4 333.7,1108.3 328.2,1107.8 323.1,1098.7"/>
<polygon points="404.4,1163.2 402.6,1155 409,1152.6 412.9,1156.9 412.4,1163.4" opacity="0.8"/>
<polygon points="219.3,1140.7 225.4,1140 223.7,1144.8"/>
<polygon points="395.2,1086.1 394.8,1097.6 385.3,1096.1 385.7,1087.1" opacity="0.7"/>
<polygon points="458,1146 453.7,1142.6 457.5,1138.3 461.3,1141.8" opacity="0.9"/>
<polygon points="412,1128.2 407.3,1133.3 404.1,1130.9 406.3,1128.3" opacity="0.7"/>
<polygon points="419.7,1129.3 423.3,1127.9 420.3,1132.4" opacity="0.9"/>
<polygon points="426.8,1098.4 435.2,1094.9 437.6,1102.4 430.8,1106.6" opacity="0.9"/>
<polygon points="389,1102.2 377.4,1100.4 385.9,1091.7" opacity="0.8"/>
<polygon points="263.9,1113.5 262.7,1121 255,1120.8" opacity="0.8"/>
<polygon points="285.5,1127.4 293.6,1125.1 291.2,1134.7" opacity="0.7"/>
<polygon points="462.6,1089.1 462.2,1091.3 459.3,1093.3 459,1089.4 461.2,1087.4"/>
<polygon points="308.4,1099.4 301.9,1102.1 301.1,1095.1 307.4,1093" opacity="0.8"/>
<polygon points="308.5,1114.7 313.5,1115.5 313.1,1118.4 310.5,1118.7 307.6,1117.4" opacity="0.9"/>
<polygon points="364.3,1104.6 366,1107.2 359.4,1109.3 355.5,1106.6 359.2,1103.5" opacity="0.9"/>
<polygon points="450.6,1098.4 450.6,1103 445,1106.5 442.2,1102.3 446,1098.8" opacity="0.7"/>
<polygon points="478.4,1112.9 485.2,1114.1 486.6,1121.9 478.1,1122.8 473.9,1117.7" opacity="0.9"/>
<polygon points="330.8,1141 325.4,1143.4 329,1131.6"/>
<polygon points="410.2,1110.3 405.9,1110.5 406.3,1105.9 411.6,1105.5 412.5,1106.7"/>
<polygon points="371.3,1147.2 379.5,1145.1 382.5,1149.6 378.6,1154.6 370.8,1152.2" opacity="0.7"/>
<polygon points="416.1,1102.1 415.8,1099.4 419.6,1096.7 421.7,1098.6 419,1101.5" opacity="0.8"/>
<polygon points="324.5,1134.4 328.5,1141.7 325,1147.5 321.2,1143 322.3,1135.9" opacity="0.7"/>
<polygon points="329.1,1070.7 330.9,1066.1 332.9,1068 331.5,1072.4"/>
<polygon points="330.6,1054.7 338.6,1053.5 338.2,1059.7 331.6,1060.7" opacity="0.7"/>
<polygon points="282.7,1128.7 283.1,1122.7 288.6,1125.7" opacity="0.9"/>
<polygon points="444.4,1108 443.5,1105.5 448.3,1102.5 450.4,1105 448.4,1109.3" opacity="0.7"/>
<polygon points="226.5,1089 226.2,1096.6 217.3,1093.5" opacity="0.7"/>
<polygon points="429.6,1137.6 422.4,1133.5 427.1,1122.8 433.8,1130.6" opacity="0.8"/>
<polygon points="316.5,1129.1 315.1,1135.3 310.7,1136.2 305.3,1131.2 311.2,1126.3"/>
<polygon points="340.2,1068.5 348.6,1070.6 341.4,1074.6" opacity="0.7"/>
<polygon points="252,1115.6 255.7,1112.4 259.4,1113.7 258,1118.7 255.1,1119" opacity="0.7"/>
<polygon points="385.6,1102.2 378.9,1099 378.8,1096.3 385,1092.9 387.8,1096.9" opacity="0.9"/>
<polygon points="431.6,1152.7 432.2,1148.5 434.2,1146.9 434.8,1150.1"/>
<polygon points="303.6,1108 306.4,1107.6 310.9,1112.7 307.2,1112.2" opacity="0.8"/>
<polygon points="299.1,1139.5 296.7,1136.9 298.2,1135.3 300.6,1137.4" opacity="0.7"/>
<polygon points="239.1,1132.6 240.7,1125.9 245.5,1129.9"/>
<polygon points="285.9,1147.8 286.6,1149.2 284.5,1150.8 281.7,1149.9 282.5,1147.8"/>
<polygon points="414.9,1109.3 419.7,1115.3 411.9,1116.2" opacity="0.9"/>
<polygon points="235.6,1115.3 237.9,1120 235,1119.3 233.7,1116.6"/>
<polygon points="404.9,1150.5 403.8,1148.7 407.1,1146.6 407.9,1148" opacity="0.9"/>
<polygon points="284.6,1136.9 285.7,1139.4 281.1,1138.6" opacity="0.8"/>
<polygon points="268.5,1143.3 267,1146.1 263.8,1145 264.2,1142.5" opacity="0.8"/>
<polygon points="450.4,1136.1 443.8,1137 446,1130.9 449.7,1130.5" opacity="0.8"/>
<polygon points="275.6,1140.5 276.7,1132.2 278.9,1132.3 277.2,1140.1" opacity="0.8"/>
<polygon points="287,1148.2 283.8,1152.5 283.3,1148.5 287,1145.2" opacity="0.7"/>
<polygon points="277.5,1115.5 276.2,1111.5 279,1108.4 280.6,1111.4" opacity="0.8"/>
<polygon points="342.7,1153.4 342.8,1150.1 346.9,1149.9 347.9,1151.5 346.4,1155.8" opacity="0.9"/>
<polygon points="321.4,1107.6 324.1,1112.7 319.2,1116.6 315.8,1109.3"/>
<polygon points="434.9,1148 428.1,1150.4 429.4,1143.1" opacity="0.8"/>
<polygon points="386.3,1157.7 385.4,1153.3 388.9,1153.6" opacity="0.7"/>
<polygon points="242.4,1128.3 245.6,1129.6 243.7,1130.9 241.6,1129.2" opacity="0.8"/>
<polygon points="398.8,1138.5 396.8,1140.4 395.3,1140.3 395.3,1139.3 397.3,1138" opacity="0.9"/>
<polygon points="466.2,1116.4 471.9,1115.7 472,1118.2 467.3,1119.3" opacity="0.8"/>
<polygon points="463.3,1111.9 464.2,1114.6 460,1116.3 458.7,1113.2" opacity="0.9"/>
<polygon points="462.1,1117.6 460.8,1120.1 459.7,1116.5" opacity="0.7"/>
<polygon points="243.8,1108.3 240.5,1108.2 241.2,1103.8 243.9,1104.4" opacity="0.8"/>
<polygon points="329.2,1129.6 325.5,1127.2 326.6,1124.3"/>
<polygon points="461.1,1114.6 459.8,1117.4 458.8,1116.2 457.8,1112 459.6,1110.6" opacity="0.7"/>
<polygon points="385.2,1136.6 380.1,1137.2 382.4,1131.7 386.9,1132.2" opacity="0.9"/>
<polygon points="273.8,1160.4 269.8,1161.1 270.7,1157.7" opacity="0.9"/>
<polygon points="464.8,1157.1 471.1,1154.3 469.2,1159.7"/>
<polygon points="298.6,1128 294.1,1131.7 292.2,1128.9 296.5,1122.8" opacity="0.8"/>
<polygon points="421,1139.2 423.2,1138.4 424,1143.5 421.8,1142.7" opacity="0.8"/>
<polygon points="479.4,1150.8 480.8,1149.9 483.1,1150.4 481.4,1152.2 479.3,1152.1" opacity="0.9"/>
<polygon points="384.5,1144.9 388.4,1148.4 383.8,1152.3 380.1,1151.1 380.9,1146.9" opacity="0.8"/>
<polygon points="312.4,1127 314.8,1127.6 314.7,1132 312,1131.3" opacity="0.8"/>
<polygon points="461.7,1118.5 459.9,1120 459.8,1116.4 463.5,1113.4" opacity="0.7"/>
<polygon points="467.7,1138.6 472.1,1137.5 470.2,1142.8" opacity="0.8"/>
<polygon points="457,1121.3 452.1,1119.9 454.9,1117.2" opacity="0.7"/>
<polygon points="398.7,1126.3 394.5,1129 390,1126.7 396,1124.5" opacity="0.9"/>
<polygon points="298,1104.4 294.7,1107.6 293,1105.4 296.5,1102.5"/>
<polygon points="409.5,1115.6 408.1,1116.3 407.7,1112.6" opacity="0.9"/>
<polygon points="360.7,1154.3 364.4,1156.5 364.9,1158.9 362.4,1157.8" opacity="0.9"/>
<polygon points="329.6,1134.9 324.9,1133 325.4,1131.2 330.9,1130.9 331.5,1132.1" opacity="0.9"/>
<polygon points="438.5,1104.7 443.3,1107.3 443.4,1112.6 436.8,1109.6" opacity="0.9"/>
<polygon points="377.6,1153.9 379.6,1149.7 379.6,1154" opacity="0.7"/>
<polygon points="474.9,1123.4 471.9,1123.6 469.2,1120.9 470.8,1119.8 475.3,1121.4" opacity="0.9"/>
<polygon points="325,1116.9 325.4,1112.5 328.9,1111.8 329.7,1116.6" opacity="0.7"/>
<polygon points="400.2,1113.6 400.2,1112.1 406.3,1111.7 406.4,1113.4" opacity="0.7"/>
<polygon points="381.9,1152.9 380.8,1157.9 378.6,1156.9" opacity="0.9"/>
<polygon points="294.1,1113.7 296.6,1116.5 291.2,1118.3 290,1115.5" opacity="0.9"/>
<polygon points="313.7,1140.9 318.3,1143.8 312.4,1146.1 309,1141.8" opacity="0.7"/>
<polygon points="339.9,1117.4 342.4,1112.4 344.9,1113.8 342.3,1118.8" opacity="0.8"/>
<polygon points="379.2,1152.1 384,1156.2 382,1160" opacity="0.9"/>
<polygon points="336.1,1114.7 335.8,1121.9 329.4,1120.1"/>
<polygon points="455.1,1156.8 458.1,1154.5 459.4,1157.6 457.3,1159.3"/>
<polygon points="427.8,1114.4 426.2,1115.1 424.5,1113.2 424.4,1110.4"/>
<polygon points="234.1,1129.3 230.9,1131 230.4,1130.5 233.7,1128.5" opacity="0.8"/>
<polygon points="338.8,1108 336.8,1104.2 340.4,1104.2" opacity="0.9"/>
<polygon points="431.8,1129.5 430.3,1131.7 429.8,1128.2 431.5,1126.6" opacity="0.7"/>
<polygon points="294.4,1107.6 293.6,1103.3 298.6,1102.6 299.7,1107" opacity="0.7"/>
<polygon points="287,1144.1 290.7,1143.2 291.5,1147.1 289,1148" opacity="0.9"/>
<polygon points="435,1161 427.5,1158.5 434.2,1156.3"/>
<polygon points="338.4,1126 334.8,1124.1 335.9,1119.9 340.1,1122.4" opacity="0.8"/>
<polygon points="409.4,1130 404.8,1127.9 403.9,1125.5 407.8,1126.3" opacity="0.8"/>
<polygon points="258.2,1156.3 256.3,1150 263.2,1149.6" opacity="0.8"/>
<polygon points="324.9,1141 325,1138.5 327.3,1137 330.9,1139.5 328.2,1143.2" opacity="0.8"/>
<polygon points="440,1121.5 443.7,1117.6 447.4,1118.4 448.5,1123.3 443.2,1125.6" opacity="0.7"/>
<polygon points="322.9,1119.8 327.3,1121.4 329.5,1126.5 325.9,1125.5" opacity="0.8"/>
<polygon points="367,1107.4 364.7,1106.3 364.6,1103.9 367.9,1103.5 369.4,1105.4" opacity="0.9"/>
<polygon points="383.9,1158.2 389.8,1156.7 392.7,1159.2 386.1,1160.3" opacity="0.8"/>
<polygon points="248.2,1157.8 243.1,1152 245.9,1151 249.9,1155.5"/>
<polygon points="449.4,1115.2 452.6,1118.2 449.4,1121.6 446.8,1118" opacity="0.8"/>
<polygon points="473.4,1138.1 475.3,1140.6 473.6,1142.7"/>
<polygon points="248.9,1114.9 246.9,1113.4 246.7,1109.7 249.2,1110.6" opacity="0.9"/>
<polygon points="226.2,1120.5 229.6,1118.4 229.7,1123.1" opacity="0.8"/>
<polygon points="465.7,1138.4 460.8,1138.3 462.9,1134.6 466.5,1135.6" opacity="0.9"/>
<polygon points="183.9,995.1 197.4,987.6 220,989.1 238.1,995.1 246.4,1001.1 242.6,1008.7 229.3,1013.2 204.9,1016.2 185.4,1014.7"/>
<polygon points="244.8,1017.7 259.2,1008.7 275.7,1005.7 286.3,1013.2 292.3,1017 286.3,1020.7 269.7,1019.2 254.6,1020.7 246.4,1022.2" opacity="0.95"/>
<polygon points="257.7,1025.2 269.7,1023 287.8,1024.5 292.3,1029.8 289.3,1034.3 274.2,1031.3 262.2,1029.8" opacity="0.95"/>
<polygon points="265.2,1038.8 272.7,1033.5 283.3,1034.3 295.3,1044.8 311.9,1053.9 316.4,1061.4 320.9,1073.4 319.4,1079.5 304.3,1076.4 286.3,1073.4 275.7,1071.9 280.2,1058.4 272.7,1049.3"/>
<polygon points="361.6,1048.6 387.2,1071.9 376.6,1097.5 361.6,1079.5 360.1,1061.4"/>
<polygon points="424.8,1073.4 436.9,1055.4 464,1050.1 471.5,1052.3 467,1068.9 461,1078 442.9,1079.5 430.8,1079.5"/>
<polygon points="456.4,1081 464,1081 477.8,1093 488.1,1100.5 477.8,1105.1 468.5,1103.6 459.5,1093" opacity="0.95"/>
<polygon points="263.7,1090 271.2,1084 284.8,1084 280.2,1093 265.2,1096" opacity="0.9"/>
<polygon points="328.4,1085.5 339,1079.5 348,1088.5 345,1094.5 331.4,1094.5" opacity="0.9"/>
<polygon points="340.5,1100.5 351,1096 357,1100.5 355.5,1112.6 342,1111.1" opacity="0.9"/>
<polygon points="388.7,1111.1 397.7,1109.6 406.7,1117.1 403.7,1123.1 393.2,1123.1" opacity="0.9"/>
<polygon points="399.2,1126.1 415.8,1124.6 418.8,1138.2 409.8,1139.7" opacity="0.95"/>
<polygon points="316.4,1135.2 328.4,1133.7 339,1139.7 336,1145.7 319.4,1145.7" opacity="0.9"/>
<polygon points="372.1,1148.7 384.2,1141.2 391.7,1148.7 388.7,1159.3 378.1,1159.3" opacity="0.95"/>
<polygon points="439.9,1093 445.9,1091.5 454.9,1103.6 451.9,1115.6 442.9,1109.6" opacity="0.85"/>
<polygon points="417.3,1109.6 436.9,1099 441.4,1103.6 424.8,1118.6" opacity="0.85"/>
<polygon points="189.9,1129.2 211,1124.6 242.6,1127.7 265.2,1135.2 262.2,1142.7 235.1,1145.7 197.4,1141.2" opacity="0.9"/>
<polygon points="269.7,1145.7 283.3,1142.7 292.3,1148.7 286.3,1154.8 272.7,1153.3" opacity="0.9"/>
<polygon points="329.9,1047.1 360.1,1043.3 360.8,1045.6 331.4,1051.6" opacity="0.8"/>
<polygon points="316.4,1053.9 328.4,1050.8 334.5,1061.4 325.4,1065.9 317.9,1061.4" opacity="0.7"/>
<polygon points="385.7,1100.5 445.9,1084 446.7,1085.8 386.4,1102.8" opacity="0.75"/>
</g>
<g id="s1a">
<polygon points="288.1,1128.9 285.3,1131.8 279,1127.2 281.8,1123.7" opacity="0.7"/>
<polygon points="401.3,1076.3 403.4,1078.5 401.1,1084.6 399.5,1082.7" opacity="0.9"/>
<polygon points="358.4,1134.3 356.6,1132.9 361.3,1131.9 361.1,1133.8" opacity="0.9"/>
<polygon points="488.5,1102.3 490.1,1106.5 483.5,1104.8 483.1,1100.6"/>
<polygon points="477.3,1124.7 476.7,1119.8 482.2,1121.9 482.2,1125.2"/>
<polygon points="480.6,1121.1 490.1,1121.9 488.3,1131 478.5,1129.2" opacity="0.9"/>
<polygon points="236,1117.1 241.2,1120 240.1,1122.2 233.6,1123.8 232.5,1119.8" opacity="0.8"/>
<polygon points="343.8,1091.1 337.3,1087 342.1,1080.2 348.4,1083.6" opacity="0.9"/>
<polygon points="343.8,1063.4 339,1058.5 339.9,1056.2 345.3,1054.5 347.6,1060.7" opacity="0.8"/>
<polygon points="415,1075.2 421.8,1073.7 420.3,1079.6"/>
<polygon points="296.3,1120.4 295.4,1127 287.9,1127"/>
<polygon points="444.5,1119.1 448.6,1126.1 443.3,1126.4 441.6,1119.9" opacity="0.8"/>
<polygon points="395.2,1160 388.1,1157 392.4,1147.9 396.8,1151" opacity="0.8"/>
<polygon points="383.5,1102.8 383.8,1095 391.2,1095.9 394.3,1105.5" opacity="0.9"/>
<polygon points="324.7,1097 316.7,1099.7 327.5,1089.9" opacity="0.8"/>
<polygon points="442.4,1089.1 435.5,1098.2 431.1,1090.3" opacity="0.8"/>
<polygon points="449.2,1144.4 452.1,1140.1 458.6,1145 454.7,1148.9" opacity="0.9"/>
<polygon points="373.1,1114.2 375.6,1124.1 371.9,1122.2 370.1,1113.8" opacity="0.8"/>
<polygon points="470.4,1127.6 471.9,1123.9 475.8,1123.1 476.3,1124.9 472.3,1129.5"/>
<polygon points="389.7,1090.2 388.3,1095.7 386.1,1097.2 383.9,1094.2 387,1088.9" opacity="0.8"/>
<polygon points="356.5,1068.2 354.2,1074.8 344.4,1071.5 345.4,1066.2" opacity="0.9"/>
<polygon points="251.9,1103.9 250.2,1096.9 256.3,1098.6" opacity="0.9"/>
<polygon points="403.8,1092.4 411.8,1089 417.5,1091.8 411.1,1097.7 403,1096.2"/>
<polygon points="489.2,1136.3 491.6,1138 486.4,1143.8 479.8,1145.1 482.7,1138.6" opacity="0.8"/>
<polygon points="224.3,1116.4 224.8,1123.3 220.1,1126.7 216.4,1122.1 219.1,1117.5" opacity="0.7"/>
<polygon points="295.9,1152.6 298.7,1147.9 302.7,1149.6 300.2,1155.1" opacity="0.8"/>
<polygon points="465.2,1118.1 460.9,1114.1 466.9,1109.3" opacity="0.9"/>
<polygon points="347.4,1108.7 351.1,1109.8 350.7,1113.4 345.2,1113.7 344.5,1110.3" opacity="0.8"/>
<polygon points="411.6,1142.2 403.4,1143.6 406.5,1136.7"/>
<polygon points="281.2,1157 279.7,1149 286.6,1154.3" opacity="0.7"/>
<polygon points="463.8,1111.6 468.6,1121.1 462.5,1121.1"/>
<polygon points="279.5,1094.7 287.3,1093.2 286.4,1096.8" opacity="0.9"/>
<polygon points="268.2,1091.9 271,1087.3 275.1,1086.8 280.4,1091.8 276.1,1094.3" opacity="0.7"/>
<polygon points="216.5,1136.5 220.4,1135.3 227.6,1137.4 222.1,1142.9 214.3,1143.1" opacity="0.9"/>
<polygon points="362.8,1126.8 366.6,1126.8 367.6,1128.6 365.3,1129 361.9,1128.1" opacity="0.8"/>
<polygon points="275.2,1114.9 274.1,1117.3 271.6,1114.8 273.3,1111.5"/>
<polygon points="388.6,1090.7 381.6,1089.1 384.2,1083.2 392,1083.4" opacity="0.9"/>
<polygon points="404.9,1129 410,1120.9 413.2,1125.6" opacity="0.9"/>
<polygon points="299.3,1110.5 302,1109.6 303.8,1114.8 301.9,1118.1"/>
<polygon points="332.3,1129.8 333.9,1138.2 329.5,1139.8 327,1129.2" opacity="0.7"/>
<polygon points="240.3,1149.4 236.6,1144.2 241.9,1135.7 248.5,1142.3" opacity="0.7"/>
<polygon points="468.7,1156.4 473.7,1149 472.4,1157.2"/>
<polygon points="332.8,1152.6 334.7,1145.1 341.3,1148.2 341.1,1153.9" opacity="0.8"/>
<polygon points="246.6,1108 245.2,1112.9 241.2,1110.2 243.7,1105.9"/>
<polygon points="421.7,1125.6 425.4,1126.3 424.3,1129.5 421.5,1129.2" opacity="0.9"/>
<polygon points="345.1,1056.8 343.5,1055.1 348.1,1051.9 349.8,1053.3" opacity="0.9"/>
<polygon points="239.4,1094.3 243.3,1091.6 248.2,1093.2 247.6,1097.5 242.7,1098.1" opacity="0.8"/>
<polygon points="327.2,1078 327.7,1072.2 334.6,1070.7 338.3,1079.6 335,1081.5" opacity="0.7"/>
<polygon points="370,1123.6 380.9,1121.7 372.4,1131.6" opacity="0.9"/>
<polygon points="352.2,1088.4 342,1086.8 346.9,1079.3 355.8,1079.8" opacity="0.8"/>
<polygon points="237.4,1130.2 238.2,1124.2 245.1,1125.9 243.3,1131.2" opacity="0.7"/>
<polygon points="382.1,1086.5 385.6,1084.5 391,1091.2 386.8,1095.8" opacity="0.7"/>
<polygon points="221.5,1135.6 228,1130.4 224.8,1138.3" opacity="0.7"/>
<polygon points="321.1,1128.2 316.7,1141 310.2,1130.6"/>
<polygon points="310.3,1139.2 312,1141.2 309.9,1144 309.3,1141" opacity="0.8"/>
<polygon points="410.5,1098.5 413.2,1097.7 415.4,1099.6 413.8,1100.3" opacity="0.7"/>
<polygon points="322.1,1072.4 327.5,1079.6 322.4,1084 318.3,1080.3" opacity="0.8"/>
<polygon points="275.4,1096.4 274,1092.2 276.9,1089.4 278,1094"/>
<polygon points="252.4,1097.8 247.7,1097.2 249.7,1089.9 255.9,1089.9" opacity="0.8"/>
<polygon points="467.6,1159.2 453.8,1162.5 460.9,1150.8" opacity="0.9"/>
<polygon points="296.7,1154.8 294.8,1161.1 291.1,1161.9 288.5,1157.7 293.8,1153.3" opacity="0.9"/>
<polygon points="327.6,1144.4 338.5,1147.1 329.6,1156.8" opacity="0.8"/>
<polygon points="396.6,1112.5 392.1,1106.2 398.3,1102.8 403.1,1106.2 404.2,1113" opacity="0.8"/>
<polygon points="303.7,1151.9 304.6,1152.7 303.1,1154.4 300.3,1155.2 300.5,1153.4"/>
<polygon points="418.2,1160.9 416.7,1156.9 420.9,1159" opacity="0.8"/>
<polygon points="463.5,1146.6 463.6,1151.3 458.9,1150.1 458.6,1146.8"/>
<polygon points="264.9,1086.1 271.6,1092.5 269.1,1099.4 259.7,1098 258.3,1091.5"/>
<polygon points="428.9,1138.3 431.1,1137.8 433.6,1142.9 431.9,1146.5 430.5,1145.8" opacity="0.7"/>
<polygon points="314.7,1088.6 313,1090.5 307.2,1091.1 309.2,1088.2"/>
<polygon points="433.9,1127.2 430.3,1128.4 429.6,1125.1 432.8,1122.3 435.1,1124" opacity="0.9"/>
<polygon points="383.5,1093.8 386.9,1103.9 381.7,1103.8 375.9,1097.7 377.2,1091.6" opacity="0.8"/>
<polygon points="244.2,1151.9 253.1,1153.2 252.7,1157.9 246.1,1157.7" opacity="0.8"/>
<polygon points="373.2,1157.5 376.6,1155.5 380,1157.5 378.8,1160.7 374.1,1159.3" opacity="0.7"/>
<polygon points="353.4,1135.7 350.2,1142.1 345.5,1137.6 349.5,1133.9" opacity="0.7"/>
<polygon points="236.2,1144.6 232.6,1144.6 232.1,1139.6 235.7,1138.9" opacity="0.8"/>
<polygon points="221,1091.3 218.3,1096.5 215.3,1092.1" opacity="0.9"/>
<polygon points="276.5,1153.5 280.7,1154.2 276.5,1158.8 270.4,1157.4" opacity="0.7"/>
<polygon points="395.4,1109.4 388.3,1104 392.1,1100.4 399.5,1107" opacity="0.9"/>
<polygon points="391.5,1139.1 398,1139.3 400.6,1149.2 393,1147.6"/>
<polygon points="405.1,1096.9 400.2,1105.7 390.2,1100.5 392.2,1093.3 399.4,1091.4" opacity="0.7"/>
<polygon points="411.5,1126.4 415.4,1125.6 418.2,1128.5 414.2,1129.8 412,1129.3" opacity="0.9"/>
<polygon points="243.3,1143 250,1146.8 245.2,1148.5" opacity="0.9"/>
<polygon points="365.9,1120.4 370.2,1116.3 373,1121.1 368.1,1123.6" opacity="0.8"/>
<polygon points="381.9,1160.2 388,1152.2 386.5,1162.1" opacity="0.9"/>
<polygon points="284.4,1141 287.1,1140.5 289.2,1144.7 286.3,1147.2 284.1,1144.2" opacity="0.8"/>
<polygon points="286.2,1132.6 287.7,1134.6 281.8,1138.7 279.1,1136.9" opacity="0.9"/>
<polygon points="320.8,1134.9 318.1,1136 315.7,1132.1 318.2,1131" opacity="0.9"/>
<polygon points="330.6,1119.6 333.1,1117 334.7,1121.7" opacity="0.7"/>
<polygon points="415.9,1088.6 419.5,1097.6 414.2,1100.1 409.1,1093.1" opacity="0.9"/>
<polygon points="229.2,1144.2 230.1,1139.7 235.3,1141.1 234.2,1145"/>
<polygon points="305.4,1154.7 302.1,1150.1 305.9,1145.8" opacity="0.9"/>
<polygon points="259.2,1128 260.9,1131.6 255.7,1131.6 254.9,1128.9"/>
<polygon points="401,1142.5 406,1139.5 409.7,1143 404.7,1148.6 401,1148.8" opacity="0.9"/>
<polygon points="254.9,1158.1 248.8,1150.1 256.7,1152.2 261.5,1156.9" opacity="0.7"/>
<polygon points="315.5,1110.5 316.1,1115.8 308.5,1114.8 309.5,1110" opacity="0.9"/>
<polygon points="467.3,1113.8 461.8,1115 458.5,1110.9 461.6,1106 467.6,1107.4" opacity="0.9"/>
<polygon points="255.3,1134.4 254.7,1138.2 251,1135.9 252.3,1131.7" opacity="0.7"/>
<polygon points="407.2,1085 400.6,1081.2 403.1,1074.9 411.2,1079.1" opacity="0.7"/>
<polygon points="421.3,1106.8 431.4,1102.9 435.8,1110 426.3,1117.1" opacity="0.8"/>
<polygon points="303.8,1127.3 307.8,1131.1 305.5,1132.4 297.1,1129.2 297.4,1126.2" opacity="0.7"/>
<polygon points="290.6,1123.2 286.1,1129.1 282.5,1129.1 284.8,1123.5"/>
<polygon points="308.2,1138.7 309.8,1140.5 305.7,1142.5" opacity="0.9"/>
<polygon points="253.2,1137.4 245.9,1134.3 246.5,1132.2 255.5,1131.6 258.8,1134.3" opacity="0.7"/>
<polygon points="351.9,1067.6 361.7,1064.8 364.7,1071.3 356.5,1073.1" opacity="0.7"/>
<polygon points="469.4,1100.7 474,1098.4 475.7,1101.4 472.4,1104.9" opacity="0.8"/>
<polygon points="383.7,1108.3 387.2,1105.6 388.2,1110.2"/>
<polygon points="296.5,1136.6 291,1136.9 289.9,1129.8 295.8,1131.2" opacity="0.9"/>
<polygon points="335,1128.5 331,1125.9 331.9,1123.1 336.5,1122.4 339.5,1125.4"/>
<polygon points="460.6,1128.3 459.9,1138.6 450.2,1134" opacity="0.9"/>
<polygon points="430.1,1106 427.4,1103.1 431.1,1099.6 436.4,1102.5" opacity="0.8"/>
<polygon points="385.7,1153 384.4,1155.2 384.1,1151.2" opacity="0.7"/>
<polygon points="432.4,1109.9 426.9,1109.8 427.8,1104 435.7,1103.5" opacity="0.7"/>
<polygon points="346.4,1082.4 346.7,1069.6 353.8,1073.6"/>
<polygon points="460.2,1146.4 463.2,1142.4 465.6,1143.9 462.6,1148.6" opacity="0.9"/>
<polygon points="373,1115 372.4,1110.5 377.4,1110.2 377,1114.3" opacity="0.9"/>
<polygon points="433,1144.5 438.5,1144.2 434.4,1147.8"/>
<polygon points="445.3,1153 443.7,1157.9 441.4,1158.3 440.5,1153.7"/>
<polygon points="263.7,1112.8 266.7,1110.9 270,1114.4 266.9,1117.6"/>
<polygon points="342.1,1144.8 345.4,1140.9 347.1,1144.4" opacity="0.7"/>
<polygon points="256,1124 257,1125.6 254.6,1128 251.9,1127.3 251.7,1124.5"/>
<polygon points="317.6,1157.7 312.3,1157.1 313.5,1153.2"/>
<polygon points="341.3,1150.8 345.5,1152.7 342.6,1158.2 338.5,1155.2"/>
<polygon points="480.8,1117.1 487.2,1121 484.2,1124.2" opacity="0.7"/>
<polygon points="408.7,1122.2 408.9,1123.9 406,1125.2" opacity="0.7"/>
<polygon points="425,1157.6 424.8,1162.6 419.9,1158.5"/>
<polygon points="322.1,1109.8 318.9,1108.9 321.8,1106.9"/>
<polygon points="229.6,1152.1 230.7,1158.7 228.2,1159.4 226.4,1155 227,1152.2" opacity="0.7"/>
<polygon points="312.5,1142.1 314.3,1141.4 315.7,1145.6" opacity="0.9"/>
<polygon points="295.2,1109.7 294.2,1104.9 300.8,1104.8"/>
<polygon points="250.5,1129.2 247.5,1123.2 252,1121.4 255.5,1127.6" opacity="0.8"/>
<polygon points="452.1,1139.6 455.5,1138.8 452.6,1145" opacity="0.7"/>
<polygon points="264.1,1112.8 266.8,1115.4 264,1117.8 260.4,1116.3 260.2,1112.9" opacity="0.9"/>
<polygon points="319.4,1141 319,1137.8 321.8,1137.7 322.1,1141.1" opacity="0.8"/>
<polygon points="332.6,1120 334.7,1115.7 338.5,1118.7 337.1,1122.2" opacity="0.8"/>
<polygon points="415,1141.5 419.7,1143.7 416,1145.7 410.7,1144.4"/>
<polygon points="390,1155.2 393.2,1158.4 392.4,1161.3 387.7,1158.5"/>
<polygon points="314.2,1105.5 314.7,1110 310.4,1111.8 308.3,1107.6" opacity="0.9"/>
<polygon points="246,1150.4 242.5,1148 245.3,1147.7" opacity="0.8"/>
<polygon points="358.7,1116.9 361.1,1112.9 363.8,1114.6 363.6,1118.6 359.3,1120.8" opacity="0.7"/>
<polygon points="320.7,1121.4 319.3,1126.8 316.3,1127.4 317.8,1123"/>
<polygon points="395.1,1153.3 390.1,1152.8 386.8,1147.9 390.4,1147.9" opacity="0.8"/>
<polygon points="226.8,1133.6 226.6,1136.6 223.1,1133.7" opacity="0.8"/>
<polygon points="450.9,1145.6 442.7,1147.6 444.3,1143.9" opacity="0.7"/>
<polygon points="482.7,1151.5 485.2,1154 482.8,1155.8 480.2,1153.2" opacity="0.7"/>
<polygon points="475.4,1139.6 476.6,1141.2 474.5,1144.4 472.2,1141.7" opacity="0.9"/>
<polygon points="382.9,1135.2 380.5,1129.5 385.1,1132.6" opacity="0.7"/>
<polygon points="385.4,1111.5 388.3,1106.9 392.2,1108 391,1111.9" opacity="0.7"/>
<polygon points="293.9,1122.1 292.9,1116.2 297.4,1116.6 298.7,1120.7" opacity="0.7"/>
<polygon points="231.8,1143.7 229.4,1148.9 225.8,1147.8 225.9,1145.1 230.1,1140.9" opacity="0.7"/>
<polygon points="269.2,1113.5 269.3,1112 271.3,1114 270.9,1115.7" opacity="0.7"/>
<polygon points="391.6,1126.9 388.7,1127.3 386.7,1120.9 389.4,1118.4"/>
<polygon points="251.6,1104.5 250.7,1107.8 247.4,1105.9 249.4,1103.4" opacity="0.9"/>
<polygon points="233.1,1137.3 229,1140.3 225.2,1138.4 228.2,1132.9 232.9,1133.2" opacity="0.9"/>
<polygon points="443.5,1147.4 441.3,1149.1 440.4,1147.1 441.9,1144.9" opacity="0.9"/>
<polygon points="280.2,1120.8 279.7,1117.8 285,1115.7 285.1,1121.6"/>
<polygon points="386.8,1145.9 387.1,1140.9 391.8,1144.4" opacity="0.8"/>
<polygon points="454.3,1146.3 449.8,1146.3 448.6,1143.6 452.4,1140.8" opacity="0.7"/>
<polygon points="246.7,1108.6 251.5,1111.5 249.5,1113.2 246,1110.6" opacity="0.8"/>
<polygon points="243.5,1121.6 245.6,1126.4 245.3,1128.6 242.7,1129.9 241.1,1122.6" opacity="0.8"/>
<polygon points="429.3,1154.3 424,1150.7 432.5,1148.3" opacity="0.9"/>
<polygon points="443.3,1125.6 446,1126.7 447.5,1129 444.9,1130.9 441.7,1128.2"/>
<polygon points="291.8,1125.4 290.8,1119.5 297.3,1118.6 298.8,1124.7" opacity="0.9"/>
<polygon points="366.1,1146.8 365.5,1147.5 364,1145.3 364.7,1142.6 366.1,1142.8" opacity="0.8"/>
<polygon points="415.4,1126.9 411.7,1126.9 411,1119.9 416.1,1121"/>
<polygon points="476.6,1152.2 473.4,1148.5 474.9,1146.1 477.1,1148.9" opacity="0.7"/>
<polygon points="377.7,1158.5 375.5,1154.8 379.2,1154.7" opacity="0.7"/>
<polygon points="465.6,1121.8 462.7,1124.6 462.4,1122 465.4,1118.3"/>
<polygon points="375.8,1128.4 377.1,1133.9 371.6,1131.9"/>
<polygon points="247.4,1110.1 245.3,1106.7 247,1107.1 248.2,1109"/>
<polygon points="420.5,1116.7 417.3,1116.6 418.8,1113.3" opacity="0.8"/>
<polygon points="243.7,1106.9 242.4,1113.7 240.3,1110.9 240.9,1107.3" opacity="0.8"/>
<polygon points="261.1,1156.2 257.6,1152.4 259.2,1149.7 264,1152.3"/>
<polygon points="490,1108.5 488.4,1109.3 486.3,1107.2 488.2,1104.9 490.4,1105.8" opacity="0.7"/>
<polygon points="487.7,1115.2 492.7,1120.3 486.3,1120.6" opacity="0.7"/>
<polygon points="397.7,1116.2 400.3,1114.5 405.6,1118.1 405.2,1121.3 398.5,1118.2" opacity="0.9"/>
<polygon points="402.9,1140.7 409.4,1144.7 408.5,1148.1 401.7,1148.8 400.2,1146.3" opacity="0.7"/>
<polygon points="424.4,1127.2 420.7,1121.3 425.2,1121" opacity="0.7"/>
<polygon points="468.8,1142.9 466.2,1144.2 463.2,1137 465.8,1135.6" opacity="0.7"/>
<polygon points="434.3,1117.4 431.9,1120 425.8,1117.2 426.1,1114.3 430.5,1112.4" opacity="0.9"/>
<polygon points="341.7,1121 345.8,1119.6 348,1120.8 347.4,1123 342.2,1123.8" opacity="0.7"/>
<polygon points="468.3,1145.6 466.3,1145.4 464.9,1142.3 467.1,1140.5 469.7,1141.5" opacity="0.7"/>
<polygon points="358.4,1107.6 362.6,1109.3 359.7,1112.9 357.2,1112" opacity="0.7"/>
<polygon points="265.3,1151.2 262.4,1149.9 260.6,1145.9 264.9,1146.5 267.9,1149.9"/>
<polygon points="316.1,1129.9 312.6,1131.8 312.8,1126.2"/>
<polygon points="443.2,1142.2 440.8,1137.6 446.7,1138.2 447.6,1141.7" opacity="0.7"/>
<polygon points="392.4,1150.8 388,1154.7 386.7,1151.9 391.5,1147.2 393.4,1147.9" opacity="0.9"/>
<polygon points="321.5,1153.8 324.6,1153.6 324.1,1155.1 321.1,1155" opacity="0.9"/>
<polygon points="330.6,1149.6 330.2,1153.1 326.6,1153.7 325.1,1152.5 326.4,1149.5" opacity="0.7"/>
<polygon points="224.3,1124.7 225.5,1130.4 219.8,1129.6" opacity="0.8"/>
<polygon points="421.2,1117.6 419,1123.7 414.5,1120.4 415.7,1117.1" opacity="0.9"/>
<polygon points="330.7,1004.9 339,1002.7 352.5,996.6 361.6,984.6 370.6,978.6 378.1,977.8 379.6,980.1 387.2,987.6 408.3,991.4 412,1004.2 409.8,1022.2 404.5,1044.8 390.2,1047.8 367.6,1047.5 360.1,1043.3 351,1035.8 340.5,1020.7 336,1010.2"/>
<polygon points="415.8,1006.4 418.8,1002.7 423.3,1007.9 436.9,1013.2 444.4,1022.2 447.4,1037.3 442.9,1041.8 433.9,1042.6 423.3,1037.3 415.8,1028.3 413.5,1016.2"/>
<polygon points="208,1029.8 235.1,1031.3 244.1,1043.3 256.1,1049.3 256.1,1055.4 245.6,1061.4 238.1,1055.4 229.3,1040.3 211,1043.3" opacity="0.9"/>
<polygon points="215.5,1068.9 239.6,1062.9 259.2,1059.9 269.7,1067.4 265.2,1078 257.7,1088.5 250.1,1094.5 238.1,1094.5 229.3,1085.5 214,1087" opacity="0.95"/>
<polygon points="384.2,1053.9 400.7,1053.9 414.3,1062.9 411.3,1068.9 399.2,1071.9 388.7,1062.9" opacity="0.85"/>
<polygon points="204.9,1100.5 247.1,1099 283.3,1094.5 308.9,1094.5 307.3,1130.7 265.2,1132.2 229.3,1115.6 204.9,1117.1" opacity="0.92"/>
<polygon points="313.4,1120.1 334.5,1115.6 357,1115.6 354,1127.7 340.5,1130.7 316.4,1129.2" opacity="0.92"/>
<polygon points="363.1,1124.6 382.7,1126.1 390.2,1135.2 385.7,1141.2 367.6,1135.2" opacity="0.9"/>
<polygon points="442.9,1132.2 454.9,1124.6 464,1129.2 462.5,1139.7 448.9,1144.2" opacity="0.9"/>
</g>
<g id="s2">
<polygon points="253.3,1317.3 252.4,1317.4 252.2,1314.4 253.7,1312.6 254.2,1314.3"/>
<polygon points="249.1,1271.2 240.1,1272.1 249.4,1264"/>
<polygon points="454.1,1305.4 455,1298.5 458.2,1297.1 465.7,1302.2 462.7,1308.8" opacity="0.7"/>
<polygon points="274.2,1298.1 283.8,1294.2 282.2,1302.6" opacity="0.7"/>
<polygon points="352.1,1273.8 356.1,1277 353.1,1281.9 349.4,1278.4" opacity="0.7"/>
<polygon points="234.3,1274.4 227.6,1280.1 225.6,1275.1 232.3,1270.9" opacity="0.8"/>
<polygon points="313.5,1293.4 312.5,1289.9 320.4,1288.7" opacity="0.7"/>
<polygon points="318.8,1284 318.5,1279.9 321,1282.5" opacity="0.7"/>
<polygon points="217.3,1301.6 225.2,1299.1 227.2,1303.1 221.4,1310.2 217.1,1306.9" opacity="0.9"/>
<polygon points="405.5,1317.5 403,1315.6 406,1315.1 407.7,1317.5" opacity="0.9"/>
<polygon points="387.2,1327.4 384.6,1329.7 379.6,1329.1 382.2,1325.7" opacity="0.8"/>
<polygon points="411,1300.9 408.9,1305.6 406.2,1302.2 408.1,1298.6" opacity="0.8"/>
<polygon points="263.8,1286.9 261.9,1287.2 261.3,1284.1 263.4,1282.7" opacity="0.9"/>
<polygon points="363.5,1322.5 364,1323.8 362.4,1327.1 360.6,1325.9 360.7,1323.3" opacity="0.8"/>
<polygon points="406.9,1260 410.8,1265.8 403.9,1260.6"/>
<polygon points="375.3,1280.9 378.9,1280.6 384.2,1282.5 380.5,1285.2 374.7,1283.8"/>
<polygon points="219.6,1306.5 219.3,1300.9 224.4,1300.2 226,1303.6" opacity="0.9"/>
<polygon points="401.5,1263.7 398.3,1263.2 396.9,1261.3 400.7,1261.5" opacity="0.8"/>
<polygon points="316.3,1282.8 320.1,1286.3 314.9,1288.1 313.1,1285.2"/>
<polygon points="447.2,1280.4 452.7,1282.2 446.2,1282.3"/>
<polygon points="472.5,1322.8 466.8,1312.7 475,1315"/>
<polygon points="294.5,1259.2 297.8,1258.5 301.4,1267.1 299.8,1270.6 294.6,1264.5" opacity="0.8"/>
<polygon points="482,1331.3 479.3,1324.2 483.1,1322.6 487.2,1328.6 485.9,1331.6" opacity="0.7"/>
<polygon points="470.5,1232.7 465.2,1231.4 465.4,1228.9 469.2,1230.4"/>
<polygon points="317.8,1278 320.2,1273.8 326.5,1282 321.6,1284" opacity="0.8"/>
<polygon points="218.1,1289.5 219.2,1290.3 219.4,1293.6 216.5,1294 215.4,1291.3" opacity="0.8"/>
<polygon points="403.9,1300.7 401.8,1300.7 399.6,1298.9 400.5,1297.8" opacity="0.8"/>
<polygon points="337,1272.6 332.8,1274.9 326,1272.4 326.5,1267.2 335.4,1267.4"/>
<polygon points="338.4,1296.1 333.5,1300 333.5,1294.5" opacity="0.8"/>
<polygon points="394.9,1250.1 394.8,1245.9 398.2,1244.3 399.4,1249.5" opacity="0.9"/>
<polygon points="327.7,1299.9 330,1306.4 322.2,1305.2"/>
<polygon points="445.9,1307.7 441.4,1304.3 451.7,1303.4 452.1,1307" opacity="0.7"/>
<polygon points="355.3,1264.7 359.5,1268.3 356.4,1271.9 352.4,1267.3" opacity="0.9"/>
<polygon points="467,1214 471.6,1214.3 475,1223.2 468.5,1219" opacity="0.9"/>
<polygon points="477.9,1245.7 475.8,1250.4 471,1252.9 475.2,1246.1"/>
<polygon points="313.6,1281.3 310.3,1272 316.5,1273.9"/>
<polygon points="318.2,1285.3 317.5,1295.2 311.7,1292.5 311.9,1283.6"/>
<polygon points="429.8,1275.5 435.4,1267.9 437.9,1273.6" opacity="0.9"/>
<polygon points="229.9,1329.1 232.6,1323.7 235.9,1323.1 234.2,1327.5" opacity="0.9"/>
<polygon points="476.9,1333.8 471.3,1327.7 472.2,1323.2 476.4,1326.5 479.2,1333.9"/>
<polygon points="349.5,1288.5 360.3,1292.7 355.7,1298.1"/>
<polygon points="289.1,1301.7 290.8,1294.2 298.8,1295.2 294.2,1301.7" opacity="0.7"/>
<polygon points="325.4,1306.5 324.7,1301.7 332.5,1302.3"/>
<polygon points="365.5,1325.1 360.2,1328.8 360.4,1321" opacity="0.8"/>
<polygon points="288.2,1315.2 286.9,1311.2 292.2,1308.6 294.6,1311.3 291.8,1316" opacity="0.9"/>
<polygon points="349.7,1318.7 345,1320.6 342.7,1315.1 345.7,1313"/>
<polygon points="324.4,1272.5 313.2,1273.9 315.3,1264 322.1,1264"/>
<polygon points="455.9,1303.6 463.4,1301.9 461.4,1305 456.8,1305.9" opacity="0.9"/>
<polygon points="403.1,1290.1 407.1,1287.9 409.2,1291.1 404.6,1292.9" opacity="0.8"/>
<polygon points="425,1279.3 424.4,1283.7 419.1,1285.1 417.9,1283.3 420.6,1279" opacity="0.8"/>
<polygon points="310.6,1323.4 315,1321.3 315.1,1324.7" opacity="0.7"/>
<polygon points="229,1307.4 231.2,1302.8 234.5,1303.4 233.6,1309.1" opacity="0.7"/>
<polygon points="387.3,1251.9 390.3,1258.1 387.7,1260.4 384.4,1254.6" opacity="0.9"/>
<polygon points="218.4,1323.8 215.3,1325.7 215.2,1324.1 218.9,1321.7" opacity="0.9"/>
<polygon points="268.1,1294.9 265.6,1292.1 268.9,1288.1 273.6,1290.1" opacity="0.7"/>
<polygon points="423.2,1311.4 417.3,1313.7 415.5,1311.7 419,1309.1" opacity="0.8"/>
<polygon points="306.6,1264 299.5,1266 297.6,1264.1 303.2,1260.9" opacity="0.9"/>
<polygon points="408.7,1318.5 400.8,1311.2 410,1308.9" opacity="0.9"/>
<polygon points="491.9,1284.8 490.7,1289.7 487,1292.4 485.2,1287.8 487.9,1284.9"/>
<polygon points="314.4,1330.5 313.8,1323.9 316.1,1323.4 318.6,1330.8" opacity="0.9"/>
<polygon points="456.6,1316.6 453.3,1313.4 459.4,1311.3" opacity="0.7"/>
<polygon points="416.9,1259.8 416.7,1262.8 413.2,1262.2"/>
<polygon points="239,1267.5 237.4,1274.6 233.3,1268.9" opacity="0.9"/>
<polygon points="365.6,1303 362.2,1298.2 367,1293.1 372.3,1296 371,1302.1" opacity="0.7"/>
<polygon points="312.2,1271.6 307.6,1267.5 308.8,1261.1 312.1,1262.5" opacity="0.9"/>
<polygon points="230.5,1278.5 234,1277.2 236.5,1281.1 234.2,1283.9" opacity="0.7"/>
<polygon points="444.4,1246.6 445.7,1250 440.3,1246.7" opacity="0.9"/>
<polygon points="466.4,1227.5 465.7,1226 470.6,1225.3 469.2,1227.2"/>
<polygon points="455.9,1257.9 447.8,1256.8 449.6,1249.5 458.2,1252.7" opacity="0.7"/>
<polygon points="451.7,1286.5 455.1,1274.7 456.8,1284.7" opacity="0.9"/>
<polygon points="336.4,1327.4 340.4,1322.8 344.8,1326.9 344.3,1331.3 338,1334.6" opacity="0.7"/>
<polygon points="481.8,1221.1 488.1,1228.1 480.1,1228.8" opacity="0.7"/>
<polygon points="364.5,1321.9 362.4,1316.2 369.4,1319.7 371.4,1323.9 367.6,1325" opacity="0.8"/>
<polygon points="486.1,1285.8 484.4,1286.7 484.1,1284.3 486.6,1282 487.9,1282.2" opacity="0.7"/>
<polygon points="344.8,1282.3 343.3,1280 344.6,1277.2 345.7,1278" opacity="0.7"/>
<polygon points="265.6,1311.8 262.2,1304.5 263.4,1302.9 268.8,1306 269.4,1310.4" opacity="0.7"/>
<polygon points="446,1250.9 448.6,1254.1 444.9,1253"/>
<polygon points="374.4,1294.2 376.7,1289.5 378.1,1294"/>
<polygon points="302,1296.7 297.9,1303.2 294.5,1296.2 297.9,1292" opacity="0.7"/>
<polygon points="471,1322.8 467.6,1320.4 471.6,1316.8 473.4,1319.9"/>
<polygon points="434.6,1230.5 435.3,1237 433.7,1240 431.9,1233.5" opacity="0.7"/>
<polygon points="229.2,1320.5 220.6,1321.7 218.2,1316.9 224.1,1311.3" opacity="0.7"/>
<polygon points="406.7,1305.2 409.9,1303.3 411.6,1304.8 409.5,1307.5 406,1307.8" opacity="0.9"/>
<polygon points="414,1251.4 418.4,1256.4 412.1,1261.5 408,1256" opacity="0.8"/>
<polygon points="467.6,1237.5 469.9,1239.6 468.9,1242.4 466.6,1239.4"/>
<polygon points="285.6,1324 285.1,1329.7 280.9,1333.9 278,1331.2 280.2,1326.4"/>
<polygon points="311.8,1266.3 309.5,1263.1 313.9,1260.8 315.7,1264"/>
<polygon points="324.2,1283.9 326.5,1294.1 319.9,1290.6" opacity="0.8"/>
<polygon points="340,1293.3 334,1293.6 330.3,1287.9 336.5,1287.7" opacity="0.7"/>
<polygon points="398.6,1310.2 399.8,1310.5 399.6,1315 397.6,1315.9 396.6,1313.3"/>
<polygon points="278.6,1259.4 272,1264.9 266.1,1256.4 272,1251.8" opacity="0.9"/>
<polygon points="473.6,1304.6 475.9,1310.7 468.8,1315" opacity="0.7"/>
<polygon points="271.9,1259.7 262.7,1256.2 270.6,1251.8" opacity="0.8"/>
<polygon points="399.7,1281.6 402,1286.7 398.1,1288.7 394.4,1285.3" opacity="0.8"/>
<polygon points="461.8,1316.6 460.1,1314.9 464.9,1311.8 468.6,1312 466,1315.2" opacity="0.7"/>
<polygon points="467.5,1280.3 472.5,1278.1 471.9,1283.9 467.4,1284.8" opacity="0.7"/>
<polygon points="436.8,1324.6 432.5,1316.7 440.9,1315.4 444.1,1324"/>
<polygon points="468.3,1228.1 471.7,1236.3 467.6,1238.4 463.3,1230" opacity="0.8"/>
<polygon points="420.6,1237.7 425.4,1244.3 422,1248.9 415.2,1248.4 413.7,1240.5"/>
<polygon points="451.5,1251.6 442.4,1251.2 442.5,1248.8 450.4,1248"/>
<polygon points="445.1,1278.3 439.8,1273.3 445.2,1267.1 451.6,1272.7" opacity="0.9"/>
<polygon points="477.7,1312.4 473.7,1310.1 476.2,1301.8 479.6,1301.8 482.1,1308.7" opacity="0.8"/>
<polygon points="479.5,1330.9 476.1,1327.3 482.1,1327.3 487.5,1330.7 484,1332.1"/>
<polygon points="404.1,1309.3 408.5,1308.2 409.8,1312.6 407.4,1313.9"/>
<polygon points="418.4,1324.5 424.9,1324.4 425.6,1331.6 422.7,1333.8 417.4,1328.8" opacity="0.9"/>
<polygon points="469.2,1220.9 470.7,1215.5 476,1224.5" opacity="0.8"/>
<polygon points="250,1257.6 244.5,1253.5 248.1,1248.8" opacity="0.8"/>
<polygon points="316.7,1283.6 311.2,1291 307.1,1290.3 312.6,1282.4" opacity="0.9"/>
<polygon points="406.6,1263.8 407.4,1259.2 413,1258 412,1262.1" opacity="0.9"/>
<polygon points="410,1286.1 415.5,1285.7 411.8,1290.3" opacity="0.7"/>
<polygon points="346.4,1287.9 342.7,1287.4 343,1283.8 347.7,1284.8"/>
<polygon points="240.1,1300 244.5,1290.2 251.9,1297.4" opacity="0.8"/>
<polygon points="421.3,1250.5 422.2,1253.1 419.2,1256 415.5,1251.3 415.4,1246.8" opacity="0.9"/>
<polygon points="324.9,1267.5 329.7,1268.5 329.9,1272.3 324.2,1272.8 322.6,1270.4" opacity="0.7"/>
<polygon points="262.1,1286.5 266.3,1285.2 270.8,1290.5 266,1290.3" opacity="0.8"/>
<polygon points="353.8,1332.1 351.7,1326 354.1,1321.6 357.1,1324.7" opacity="0.7"/>
<polygon points="428.5,1319.4 424.6,1315.6 426.9,1314.5 433.7,1316.5 435,1319.3" opacity="0.8"/>
<polygon points="459.5,1295.4 461,1291.6 463.5,1293.2 465,1299.3 462.2,1299.8" opacity="0.9"/>
<polygon points="269.7,1267.7 273.3,1263.7 276.6,1265 274.3,1270.5"/>
<polygon points="239.4,1307.1 230.9,1306.8 229.8,1301.9" opacity="0.9"/>
<polygon points="290.8,1272.9 310.4,1269.9 337.5,1271.4 364.6,1275.9 366.1,1316.6 355.5,1315.1 334.5,1306 316.4,1295.5 301.3,1283.4"/>
<polygon points="417.3,1277.4 423.3,1265.4 433.9,1256.3 458,1251.1 477.8,1256.3 491.1,1268.4 488.1,1295.5 477.8,1310.5 468.5,1307.5 445.9,1297 424.8,1286.4"/>
<polygon points="430.8,1205.1 436.9,1193.1 448.9,1190.1 461,1194.6 473,1193.1 485.1,1197.6 488.1,1220.2 482,1233.7 461,1232.2 436.9,1230.7 429.3,1224.7"/>
<polygon points="305.8,1227.7 316.4,1224.7 331.4,1226.2 343.5,1233.7 348,1241.3 346.5,1250.3 337.5,1256.3 325.4,1253.3 314.9,1242.8" opacity="0.95"/>
<polygon points="278.7,1205.1 286.3,1202.1 293.8,1208.1 293.8,1217.2 286.3,1221.7 279.5,1215.7" opacity="0.95"/>
<polygon points="215.5,1235.2 229.3,1238.3 235.1,1241.3 248.6,1259.3 250.1,1271.4 248.6,1280.4 229.3,1266.9 215.5,1256.3"/>
<polygon points="236.6,1232.2 247.1,1227.7 263.7,1247.3 254.6,1254.8 242.6,1247.3"/>
<polygon points="266.7,1232.2 275.7,1227.7 295.3,1245.8 293.8,1253.3 281.7,1250.3" opacity="0.95"/>
<polygon points="378.1,1268.4 390.2,1262.3 405.2,1265.4 411.3,1277.4 405.2,1286.4 382.7,1288"/>
<polygon points="379.6,1288 405.2,1291 406.7,1298.5 396.2,1300 381.1,1295.5" opacity="0.95"/>
<polygon points="364.6,1313.6 375.1,1295.5 385.7,1300 378.1,1318.1" opacity="0.95"/>
<polygon points="351,1239.8 364.6,1238.3 367.6,1245.8 363.1,1253.3 352.5,1251.8" opacity="0.9"/>
<polygon points="375.1,1235.2 385.7,1232.2 397.7,1233.7 394.7,1239.8 379.6,1242.8" opacity="0.9"/>
<polygon points="400.7,1236.7 415.8,1234.5 420.3,1239.8 406.7,1243.5" opacity="0.9"/>
<polygon points="304.3,1306 317.9,1301.5 326.9,1307.5 319.4,1316.6" opacity="0.95"/>
<polygon points="313.4,1325.6 320.9,1319.6 326.9,1328.6 313.4,1330.1" opacity="0.9"/>
<polygon points="382.7,1325.6 390.2,1323.3 397.7,1328.6 391.7,1334.6 384.2,1331.6" opacity="0.8"/>
<polygon points="313.4,1259.3 320.9,1253.3 328.4,1262.3 322.4,1268.4" opacity="0.9"/>
<polygon points="271.2,1286.4 280.2,1283.4 290.8,1298.5 286.3,1301.5" opacity="0.9"/>
<polygon points="420.3,1310.5 430.8,1306 438.4,1313.6 426.3,1318.1" opacity="0.9"/>
<polygon points="453.4,1324.1 477.8,1323.3 491.1,1325.6 477.8,1330.9 454.9,1328.6" opacity="0.95"/>
<polygon points="229.3,1310.5 253.1,1307.5 254.6,1313.6 229.3,1316.6" opacity="0.85"/>
<polygon points="364.6,1259.3 376.6,1256.3 378.1,1265.4 367.6,1272.9" opacity="0.9"/>
<polygon points="385.7,1245.8 393.2,1242.8 400.7,1253.3 393.2,1256.3" opacity="0.9"/>
<polygon points="232,1298.5 265.2,1294 266.7,1300 235.1,1304.5" opacity="0.8"/>
<polygon points="250.1,1319.6 265.2,1316.6 268.2,1322.6 253.1,1325.6" opacity="0.85"/>
<polygon points="286.3,1322.6 301.3,1323.3 302.8,1328.6 287.8,1327.9" opacity="0.85"/>
<polygon points="333,1265.4 340.5,1259.3 346.5,1263.9 340.5,1269.1" opacity="0.85"/>
<polygon points="355.5,1262.3 361.6,1259.3 364.6,1265.4 358.6,1269.9" opacity="0.85"/>
<polygon points="415.8,1212.7 421.8,1205.1 429.3,1206.6 423.3,1220.2" opacity="0.7"/>
<polygon points="409.8,1224.7 420.3,1218.7 423.3,1227.7 414.3,1232.2" opacity="0.7"/>
<polygon points="241.1,1205.1 253.1,1209.6 256.1,1214.2 244.1,1212.7" opacity="0.6"/>
<polygon points="229.3,1197.6 238.1,1200.6 239.6,1209.6 229.3,1212.7" opacity="0.5"/>
<polygon points="214,1200.6 226,1199.1 229,1209.6 220,1218.7 214,1217.2" opacity="0.75"/>
<polygon points="214,1220.2 224.5,1223.2 227.5,1232.2 215.5,1233.7" opacity="0.8"/>
<polygon points="214,1280.4 226,1283.4 229,1295.5 217,1303" opacity="0.9"/>
<polygon points="214,1307.5 227.5,1306 229,1315.1 214,1319.6" opacity="0.85"/>
</g>
<clipPath id="cph1"><polygon points="112,1037.5 184.5,1036 191.3,1109.3 115.9,1113.5"/></clipPath>
<clipPath id="cs1"><rect x="229.3" y="975.2" width="248.7" height="208.3"/></clipPath>
<clipPath id="cs2"><rect x="229.3" y="1183.5" width="248.7" height="215.5"/></clipPath>
<clipPath id="cn1"><rect x="478" y="975.2" width="256.3" height="181"/></clipPath>
<clipPath id="cn2"><rect x="478" y="1199" width="259" height="130"/></clipPath>
<clipPath id="ca1"><rect x="733.8" y="975.2" width="264.7" height="192.5"/></clipPath>
<clipPath id="ca2"><rect x="737" y="1199" width="262" height="131"/></clipPath>
</defs>
<g id="panel-c">
<linearGradient id="gph" x1="0" y1="0" x2="1" y2="1"><stop offset="0" stop-color="#fcfcfd"/><stop offset="1" stop-color="#eff0f4"/></linearGradient>
<rect x="81" y="1013" width="140.3" height="133.7" fill="#bdbdbd"/>
<polygon points="81.6,1013.6 209.5,1013.3 219,1136 84,1146" fill="url(#gph)"/>
<g filter="url(#b1)"><polygon points="112,1037.5 184.5,1036 191.3,1109.3 115.9,1113.5" fill="#737478"/></g>
<rect x="110" y="1034" width="82" height="82" filter="url(#grainw)" opacity=".3" clip-path="url(#cph1)"/>

<rect x="81" y="1232.6" width="142.2" height="124.4" fill="#b0b0b0"/>
<polygon points="89.7,1233.1 214.1,1233.1 221.2,1354.8 81.9,1354.8" fill="url(#gph)"/>
<polygon points="112.8,1252.7 186.1,1252.2 187.1,1325.5 110.7,1324.7" fill="#111"/>
<g clip-path="url(#cs1)">
<rect x="229" y="975" width="250" height="209" fill="#2c2c2c"/>
<rect x="229" y="1153" width="250" height="31" fill="#c4c4c4"/>
<g filter="url(#b1)"><use href="#bed1" fill="url(#gbed)"/><rect x="229" y="1075" width="250" height="80" filter="url(#grain2)" opacity=".8"/><use href="#s1b" fill="#a5a5a5" stroke="#dcdcdc" stroke-width=".8"/><use href="#s1a" fill="#a5a5a5" stroke="#dcdcdc" stroke-width=".8"/></g>
<rect x="229" y="1150" width="250" height="34" filter="url(#grain)" opacity=".7"/>
</g>
<rect x="230.5" y="1110.4" width="66.5" height="35.2" fill="#fff"/>
<rect x="236" y="1134.3" width="53.8" height="3" fill="#000"/>
<text x="265" y="1128.8" font-size="14.3" class="cb" text-anchor="middle">50 µm</text>
<g clip-path="url(#cs2)">
<rect x="229" y="1183" width="250" height="217" fill="#343434"/>
<linearGradient id="gsub" x1="0" y1="0" x2="0" y2="1"><stop offset="0" stop-color="#8e8e8e"/><stop offset=".5" stop-color="#9c9c9c"/><stop offset="1" stop-color="#b2b2b2"/></linearGradient>
<rect x="229" y="1327" width="250" height="73" fill="url(#gsub)"/>
<rect x="229" y="1327" width="250" height="73" filter="url(#soft)" opacity=".3"/>
<g filter="url(#b1)"><use href="#s2" fill="#3a3a3a" transform="translate(2.5 1.5)" opacity=".0"/><use href="#s2" fill="#d6d6d6" stroke="#f4f4f4" stroke-width=".8"/></g>
</g>
<rect x="242.6" y="1347.4" width="87.4" height="34.2" fill="#fff"/>
<rect x="249.4" y="1371.6" width="70" height="4" fill="#000"/>
<text x="285.5" y="1363.3" font-size="14.6" class="cb" text-anchor="middle">50 µm</text>
<rect x="478" y="975.2" width="259" height="423.8" fill="#030000"/>
<rect x="733.8" y="975.2" width="264.7" height="209" fill="#000"/>
<rect x="737" y="1184" width="262" height="215" fill="#010a01"/>
<g clip-path="url(#cn1)">
<rect x="478" y="1140" width="257" height="16" fill="#a84a4a"/>
<g filter="url(#b1)"><g transform="translate(495.96 977) scale(.955 .947) translate(-229.3 -977.8)"><use href="#bed1" fill="#d96060" opacity=".45"/><use href="#s1b" fill="#d96060"/><use href="#s1a" fill="#b04c4c"/></g></g>
<rect x="478" y="1136" width="257" height="21" filter="url(#grain)" opacity=".8"/>
<rect x="478" y="975" width="257" height="182" filter="url(#soft)" opacity=".35"/>
</g>
<g clip-path="url(#cn2)">
<rect x="478" y="1318" width="259" height="11" fill="#b04d4d"/>
<g filter="url(#b1)"><use href="#s2" fill="#d46060" transform="translate(280.1 136.1) scale(.907 .893)"/></g>
<rect x="478" y="1312" width="259" height="18" filter="url(#grain)" opacity=".8"/>
</g>
<g clip-path="url(#ca1)">
<rect x="733.8" y="1152" width="265" height="16" fill="#076807"/>
<g filter="url(#b1)"><g transform="translate(525 3.9)"><use href="#bed1" fill="#086008" opacity=".5"/><use href="#s1b" fill="#086008"/><use href="#s1a" fill="#0c8c0c"/></g></g>
<rect x="733.8" y="1148" width="265" height="20" filter="url(#grain)" opacity=".8"/>
<rect x="733.8" y="975" width="265" height="193" filter="url(#soft)" opacity=".4"/>
<polygon points="863,1136 873,1139 868,1150 864,1147" fill="#2bff2b" filter="url(#b1)"/>
</g>
<g clip-path="url(#ca2)">
<g filter="url(#b1)"><use href="#s2" fill="#052d05" transform="translate(536 136.1) scale(.925 .893)"/></g>
<path d="M738 1212q10 -6 18 8q8 6 6 12" stroke="#18b018" stroke-width="2" fill="none" filter="url(#b1)"/>
<path d="M875 1318l3 -4M882 1331h2M947 1332h3M950 1317h2M893 1300l-4 14" stroke="#25d025" stroke-width="2.2" fill="none" filter="url(#b1)"/>
</g>
<text x="485.8" y="1181.9" font-size="24" class="cr" fill="#e9e6da" textLength="119.7" lengthAdjust="spacingAndGlyphs">Ni: 34 at %</text>
<text x="487" y="1374.8" font-size="24" class="cr" fill="#e9e6da" textLength="119.4" lengthAdjust="spacingAndGlyphs">Ni: 89 at %</text>
<text x="745.7" y="1180.9" font-size="24" class="cr" fill="#e9e6da" textLength="118.7" lengthAdjust="spacingAndGlyphs">Al: 66 at %</text>
<text x="747" y="1375" font-size="24" class="cr" fill="#e9e6da" textLength="119" lengthAdjust="spacingAndGlyphs">Al: 11 at %</text>
<polygon points="701.75,894.11 666.86,980.6 663.02,979.05 663.2,995.3 674.61,983.73 670.76,982.17 705.65,895.69" fill="#ff0000"/>
<polygon points="610.28,1421.29 634.32,1234.05 638.73,1234.62 634.2,1216.9 625.34,1232.9 629.75,1233.47 605.72,1420.71" fill="#ff0000"/>
<path d="M650 986L628.9 1040.3" stroke="#ff0000" stroke-width="1.5"/>
<path d="M650.6 984.5l-7.6 7.2 7.4 2.9zM628.3 1041.8l7.6 -7.2 -7.4 -2.9z" fill="#ff0000"/>
<text x="648" y="1025.8" font-size="26.5" class="cb" fill="#ff0000" textLength="71.5" lengthAdjust="spacingAndGlyphs">70 µm</text>
<rect x="978.3" y="1146.6" width="20.2" height="21.4" fill="none" stroke="#e01010" stroke-width="1.6"/>
<path d="M998.5 1146.6L1198 809.6M998.5 1168L1198 1075.2" stroke="#ff2020" stroke-width="1.3" fill="none"/>
<text x="18" y="852.5" font-size="44" class="cb" textLength="33.5" lengthAdjust="spacingAndGlyphs">c)</text>
<text x="626" y="849.4" font-size="22.5" class="cb" textLength="227.5" lengthAdjust="spacingAndGlyphs">big particles gather on</text>
<text x="626" y="879.9" font-size="22.5" class="cb" textLength="221.4" lengthAdjust="spacingAndGlyphs">the electrode surface.</text>
<text x="247" y="937.6" font-size="25" class="cb" textLength="217.5" lengthAdjust="spacingAndGlyphs">SEM-cross sections</text>
<text x="561.6" y="938.2" font-size="25" class="cb" textLength="78.2" lengthAdjust="spacingAndGlyphs">Ni-EDS</text>
<text x="817.4" y="938.2" font-size="25" class="cb" textLength="77.2" lengthAdjust="spacingAndGlyphs">Al-EDS</text>
<text x="57.8" y="1001.4" font-size="25" class="cb" textLength="168" lengthAdjust="spacingAndGlyphs">unused CCD<tspan dy="5.5" font-size="15">OPT</tspan></text>
<text x="51.8" y="1218.7" font-size="25" class="cb" textLength="174" lengthAdjust="spacingAndGlyphs">leached CCD<tspan dy="5.5" font-size="15">OPT</tspan></text>
<text x="495.6" y="1446" font-size="22.5" class="cb" textLength="272" lengthAdjust="spacingAndGlyphs">Binder cannot hold the big</text>
<text x="495.6" y="1475.3" font-size="22.5" class="cb" textLength="256.5" lengthAdjust="spacingAndGlyphs">particles during leaching.</text>
</g>
<g id="panel-d">
<defs>
<path id="dp1" d="M1305.25 820.32C1306.7 819.4 1312.3 818.1 1314.2 819.4C1316.2 820.7 1318.3 826.6 1319.7 830.2C1321 833.8 1323.1 841.9 1324.2 846.4C1325.2 851 1326.7 859.6 1327.7 864.4C1328.8 869.2 1331.3 877.6 1332.3 882.4C1333.2 887.2 1334.4 895.4 1335 900.5C1335.6 905.5 1336.3 914.7 1336.8 920.3C1337.2 925.8 1338.6 936.8 1338.6 941.9C1338.6 946.9 1337.4 953.5 1336.8 958.1C1336.2 962.6 1334.9 971.5 1334.1 976.1C1333.2 980.7 1331.4 987.7 1330.5 992.3C1329.5 996.9 1328.3 1007.4 1326.9 1010.3C1325.4 1013.2 1321.3 1012 1319.7 1013.9C1318 1015.8 1316.2 1022 1314.2 1024.7C1312.3 1027.3 1308.4 1030.8 1305.2 1033.7C1302.1 1036.6 1295.6 1042.7 1290.8 1046.3C1286 1049.9 1272.6 1059.3 1269.2 1060.7C1265.9 1062.2 1268.3 1060 1265.6 1057.1C1263 1054.2 1253.5 1044.4 1249.4 1039.1C1245.4 1033.8 1238.6 1022.8 1235 1017.5C1231.4 1012.2 1225.2 1003.8 1222.4 999.5C1219.6 995.2 1215 988 1214.3 985.1C1213.6 982.2 1215.5 980.3 1217 977.9C1218.6 975.5 1223.9 970 1226 967.1C1228.2 964.2 1233.2 959.4 1233.2 956.3C1233.2 953.1 1227.6 947 1226 943.7C1224.5 940.3 1221.9 933.7 1221.5 931C1221.2 928.4 1221.8 925 1223.3 923.8C1224.9 922.6 1230.2 922.2 1233.2 922C1236.2 921.9 1243.2 922.2 1245.8 923C1248.5 923.7 1251.3 926 1253 927.5C1254.7 928.9 1256.5 933.8 1258.4 933.8C1260.4 933.8 1264.8 929.7 1267.4 927.5C1270.1 925.2 1275.6 920 1278.2 916.7C1280.9 913.3 1285.1 906.3 1287.2 902.3C1289.4 898.2 1293 889.9 1294.5 886C1295.9 882.2 1297.1 877 1298 873.4C1299 869.8 1300.9 863.4 1301.7 859C1302.4 854.7 1303.2 845.4 1303.5 841C1303.7 836.7 1303.2 829.4 1303.5 826.6C1303.7 823.9 1303.8 821.3 1305.2 820.3Z"/>
<path id="dp1c" d="M1305.25 820.32C1307.2 819.3 1313 817.5 1316 820.3C1319 823.2 1321.1 831 1323.2 837.4C1325.4 843.9 1327.2 851.5 1328.7 859C1330.2 866.5 1331 874.6 1332.3 882.4C1333.5 890.2 1334.8 898.3 1335.9 905.8C1336.9 913.3 1338.1 920.3 1338.6 927.5C1339 934.7 1339.3 940.9 1338.6 949.1C1337.8 957.2 1335.4 968.3 1334.1 976.1C1332.7 983.9 1332.9 989 1330.5 995.9C1328.1 1002.8 1323.3 1011.5 1319.7 1017.5C1316.1 1023.5 1313.1 1027.4 1308.9 1031.9C1304.7 1036.4 1300.2 1040.3 1294.5 1044.5C1288.7 1048.7 1279.2 1055.6 1274.7 1057.1C1270.2 1058.6 1270.8 1056.8 1267.4 1053.5C1264.1 1050.2 1259.3 1043.3 1254.8 1037.3C1250.3 1031.3 1245.2 1024.4 1240.4 1017.5C1235.6 1010.6 1229.9 1002.2 1226 995.9C1222.1 989.6 1217.9 984.5 1217 979.7C1216.1 974.9 1219.1 971.3 1220.6 967.1C1222.1 962.9 1225.4 958.7 1226 954.5C1226.6 950.3 1224.8 946.1 1224.2 941.9C1223.6 937.7 1222.4 932.9 1222.4 929.3C1222.4 925.7 1222.4 922.1 1224.2 920.3C1226 918.5 1229.6 918.5 1233.2 918.5C1236.8 918.5 1241.9 919.1 1245.8 920.3C1249.7 921.5 1253.9 924.2 1256.6 925.7C1259.3 927.2 1259.6 929.9 1262 929.3C1264.4 928.7 1267.7 925.3 1271 922C1274.3 918.7 1278.2 914.3 1281.8 909.5C1285.4 904.7 1289.7 898.7 1292.7 893.2C1295.7 887.8 1298.1 882.7 1299.9 877C1301.7 871.3 1302.6 865 1303.5 859C1304.3 853 1305.1 846.4 1305.2 841C1305.4 835.6 1304.4 830.1 1304.4 826.6C1304.4 823.2 1303.3 821.4 1305.2 820.3Z"/>
<path id="dp2" d="M1211.65 1235.71C1218 1228.7 1218.7 1226.9 1229.2 1225.2C1239.8 1223.4 1253.1 1225.5 1264.4 1226.9C1275.6 1228.3 1280.4 1226.2 1285.5 1232.2C1290.5 1238.2 1287.9 1247 1289.7 1256.8C1291.5 1266.7 1290.2 1270.9 1294.3 1281.4C1298.4 1292 1304.1 1298.3 1310.1 1309.5C1316.1 1320.8 1320.3 1326.4 1324.2 1337.7C1328 1348.9 1329.8 1354.6 1329.4 1365.8C1329.1 1377.1 1327 1384.1 1322.4 1393.9C1317.8 1403.8 1314 1407.3 1306.6 1415C1299.2 1422.8 1301.7 1429.1 1285.5 1432.6C1269.3 1436.1 1240.1 1437.5 1225.7 1432.6C1211.3 1427.7 1216.9 1418.6 1213.4 1408C1209.9 1397.5 1210.9 1392.5 1208.1 1379.9C1205.3 1367.2 1202.5 1358.8 1199.3 1344.7C1196.2 1330.6 1194.1 1321.5 1192.3 1309.5C1190.5 1297.6 1189.5 1294.8 1190.5 1284.9C1191.6 1275.1 1193.4 1270.2 1197.6 1260.3C1201.8 1250.5 1205.3 1242.7 1211.6 1235.7Z"/>
<path id="dp2c" d="M1359.32 1239.23C1368.5 1234.3 1376.2 1230.4 1391 1228.7C1405.7 1226.9 1423.3 1224.8 1433.2 1230.4C1443 1236.1 1437.7 1246.3 1440.2 1256.8C1442.7 1267.4 1440.5 1275.4 1445.5 1283.2C1450.4 1290.9 1458.8 1287.4 1464.8 1295.5C1470.8 1303.6 1471.1 1311.7 1475.4 1323.6C1479.6 1335.6 1482.5 1342.6 1485.9 1355.3C1489.3 1367.9 1490.5 1375 1492.2 1386.9C1494 1398.9 1494 1403.8 1494.7 1415C1495.4 1426.3 1495 1433.3 1495.8 1443.2C1496.5 1453 1497.4 1455.8 1498.2 1464.3C1499.1 1472.7 1514 1481.1 1500 1485.4C1485.9 1489.6 1442.7 1488.9 1427.9 1485.4C1413.1 1481.8 1427.2 1473.8 1426.1 1467.8C1425.1 1461.8 1426.8 1457.6 1422.6 1455.5C1418.4 1453.4 1412.1 1461.1 1405 1457.2C1398 1453.4 1393.8 1446 1387.5 1436.1C1381.1 1426.3 1378.3 1419.3 1373.4 1408C1368.5 1396.8 1366.7 1391.1 1362.8 1379.9C1359 1368.6 1357.6 1363.7 1354.1 1351.7C1350.5 1339.8 1348.1 1331.4 1345.3 1320.1C1342.4 1308.8 1341.4 1304.6 1340 1295.5C1338.6 1286.3 1337.2 1282.8 1338.2 1274.4C1339.3 1265.9 1341 1260.3 1345.3 1253.3C1349.5 1246.3 1350.2 1244.1 1359.3 1239.2Z"/>
<clipPath id="cd1"><rect x="1197.6" y="809.8" width="618.8" height="265.3"/></clipPath>
<clipPath id="cd2"><rect x="1187" y="1206.5" width="629.4" height="266.5"/></clipPath>
<clipPath id="cd2a"><rect x="1187" y="1206.5" width="148.7" height="266.5"/></clipPath>
<clipPath id="cd2b"><rect x="1335.7" y="1206.5" width="155.5" height="266.5"/></clipPath>
<clipPath id="cd2c"><rect x="1491.2" y="1206.5" width="163.5" height="266.5"/></clipPath>
<clipPath id="cd2d"><rect x="1654.7" y="1206.5" width="161.7" height="266.5"/></clipPath>
<radialGradient id="gg1" gradientUnits="userSpaceOnUse" cx="1256" cy="1010" r="120"><stop offset="0" stop-color="#fbfbfb"/><stop offset=".3" stop-color="#cfcfcf"/><stop offset=".7" stop-color="#a2a2a2"/><stop offset="1" stop-color="#828282"/></radialGradient>
<radialGradient id="gy1" gradientUnits="userSpaceOnUse" cx="1245" cy="1010" r="150"><stop offset="0" stop-color="#f8dc08"/><stop offset=".45" stop-color="#eeb418"/><stop offset="1" stop-color="#c8801c"/></radialGradient>
<radialGradient id="gr1" gradientUnits="userSpaceOnUse" cx="1262" cy="990" r="150"><stop offset="0" stop-color="#e01010"/><stop offset="1" stop-color="#b81414"/></radialGradient>
<radialGradient id="ga1" gradientUnits="userSpaceOnUse" cx="1262" cy="1000" r="150"><stop offset="0" stop-color="#46cc1a"/><stop offset="1" stop-color="#2a9c14"/></radialGradient>
<linearGradient id="gr2" gradientUnits="userSpaceOnUse" x1="1370" y1="1230" x2="1470" y2="1470"><stop offset="0" stop-color="#b80c0c"/><stop offset=".6" stop-color="#d81212"/><stop offset="1" stop-color="#f81818"/></linearGradient>
<radialGradient id="gg2" gradientUnits="userSpaceOnUse" cx="1262" cy="1350" r="110"><stop offset="0" stop-color="#ececec"/><stop offset=".55" stop-color="#d2d2d2"/><stop offset="1" stop-color="#8a8a8a"/></radialGradient>
<filter id="fni1" x="-15%" y="-15%" width="130%" height="130%" color-interpolation-filters="sRGB"><feGaussianBlur in="SourceGraphic" stdDeviation="1.6" result="s"/><feTurbulence type="fractalNoise" baseFrequency="0.3" numOctaves="2" seed="3" result="t"/><feColorMatrix in="t" type="matrix" values="0 0 0 0 0.5  0 0 0 0 0  0 0 0 0 0  1.8 1.8 0 0 -1.6" result="n"/><feComposite in="n" in2="s" operator="in" result="ns"/><feTurbulence type="fractalNoise" baseFrequency="0.3" numOctaves="2" seed="12" result="t2"/><feColorMatrix in="t2" type="matrix" values="0 0 0 0 1  0 0 0 0 0.15  0 0 0 0 0.1  1.8 1.8 0 0 -1.75" result="n2"/><feComposite in="n2" in2="s" operator="in" result="ns2"/><feMerge><feMergeNode in="s"/><feMergeNode in="ns"/><feMergeNode in="ns2"/></feMerge></filter>
<filter id="fal1" x="-15%" y="-15%" width="130%" height="130%" color-interpolation-filters="sRGB"><feGaussianBlur in="SourceGraphic" stdDeviation="1.6" result="s"/><feTurbulence type="fractalNoise" baseFrequency="0.3" numOctaves="2" seed="5" result="t"/><feColorMatrix in="t" type="matrix" values="0 0 0 0 0.08  0 0 0 0 0.42  0 0 0 0 0.04  1.8 1.8 0 0 -1.6" result="n"/><feComposite in="n" in2="s" operator="in" result="ns"/><feTurbulence type="fractalNoise" baseFrequency="0.3" numOctaves="2" seed="8" result="t2"/><feColorMatrix in="t2" type="matrix" values="0 0 0 0 0.5  0 0 0 0 1  0 0 0 0 0.3  2 2 0 0 -1.95" result="n2"/><feComposite in="n2" in2="s" operator="in" result="ns2"/><feMerge><feMergeNode in="s"/><feMergeNode in="ns"/><feMergeNode in="ns2"/></feMerge></filter>
<filter id="fna1" x="-15%" y="-15%" width="130%" height="130%" color-interpolation-filters="sRGB"><feGaussianBlur in="SourceGraphic" stdDeviation="1.6" result="s"/><feTurbulence type="fractalNoise" baseFrequency="0.3" numOctaves="2" seed="7" result="t"/><feColorMatrix in="t" type="matrix" values="0 0 0 0 0.75  0 0 0 0 0.4  0 0 0 0 0.05  1.8 1.8 0 0 -1.65" result="n"/><feComposite in="n" in2="s" operator="in" result="ns"/><feTurbulence type="fractalNoise" baseFrequency="0.3" numOctaves="2" seed="9" result="t2"/><feColorMatrix in="t2" type="matrix" values="0 0 0 0 1  0 0 0 0 0.95  0 0 0 0 0.1  2 2 0 0 -1.95" result="n2"/><feComposite in="n2" in2="s" operator="in" result="ns2"/><feMerge><feMergeNode in="s"/><feMergeNode in="ns"/><feMergeNode in="ns2"/></feMerge></filter>
<filter id="fni2" x="-15%" y="-15%" width="130%" height="130%" color-interpolation-filters="sRGB"><feGaussianBlur in="SourceGraphic" stdDeviation="4" result="s"/><feTurbulence type="fractalNoise" baseFrequency="0.3" numOctaves="2" seed="13" result="t"/><feColorMatrix in="t" type="matrix" values="0 0 0 0 0.45  0 0 0 0 0  0 0 0 0 0  1.8 1.8 0 0 -1.6" result="n"/><feComposite in="n" in2="s" operator="in" result="ns"/><feTurbulence type="fractalNoise" baseFrequency="0.3" numOctaves="2" seed="14" result="t2"/><feColorMatrix in="t2" type="matrix" values="0 0 0 0 1  0 0 0 0 0.12  0 0 0 0 0.08  1.8 1.8 0 0 -1.75" result="n2"/><feComposite in="n2" in2="s" operator="in" result="ns2"/><feMerge><feMergeNode in="s"/><feMergeNode in="ns"/><feMergeNode in="ns2"/></feMerge></filter>
<filter id="fal2" x="-15%" y="-15%" width="130%" height="130%" color-interpolation-filters="sRGB"><feGaussianBlur in="SourceGraphic" stdDeviation="4" result="s"/><feTurbulence type="fractalNoise" baseFrequency="0.33" numOctaves="2" seed="15" result="t"/><feColorMatrix in="t" type="matrix" values="0 0 0 0 0.22  0 0 0 0 0.88  0 0 0 0 0.22  4 4 0 0 -4.05" result="n"/><feComposite in="n" in2="s" operator="in" result="ns"/><feTurbulence type="fractalNoise" baseFrequency="0.33" numOctaves="2" seed="25" result="t2"/><feColorMatrix in="t2" type="matrix" values="0 0 0 0 0  0 0 0 0 0.12  0 0 0 0 0  4 4 0 0 -3.9" result="n2"/><feComposite in="n2" in2="s" operator="in" result="ns2"/><feMerge><feMergeNode in="s"/><feMergeNode in="ns"/><feMergeNode in="ns2"/></feMerge></filter>
<filter id="fna2" x="-15%" y="-15%" width="130%" height="130%" color-interpolation-filters="sRGB"><feGaussianBlur in="SourceGraphic" stdDeviation="4" result="s"/><feTurbulence type="fractalNoise" baseFrequency="0.33" numOctaves="2" seed="17" result="t"/><feColorMatrix in="t" type="matrix" values="0 0 0 0 0.8  0 0 0 0 0.88  0 0 0 0 0.15  4 4 0 0 -3.95" result="n"/><feComposite in="n" in2="s" operator="in" result="ns"/><feTurbulence type="fractalNoise" baseFrequency="0.33" numOctaves="2" seed="27" result="t2"/><feColorMatrix in="t2" type="matrix" values="0 0 0 0 0.85  0 0 0 0 0.2  0 0 0 0 0.02  4 4 0 0 -4" result="n2"/><feComposite in="n2" in2="s" operator="in" result="ns2"/><feMerge><feMergeNode in="s"/><feMergeNode in="ns"/><feMergeNode in="ns2"/></feMerge></filter>
<filter id="spo" x="0" y="0" width="100%" height="100%" color-interpolation-filters="sRGB">
<feTurbulence type="fractalNoise" baseFrequency="0.32" numOctaves="2" seed="33"/>
<feColorMatrix type="matrix" values="0 0 0 0 0.08  0 0 0 0 .5  0 0 0 0 0.08  5 5 0 0 -5.75"/>
</filter>
<path id="dpal" d="M1517.4 1237.4C1527.9 1232.2 1540.1 1231.1 1555 1230C1569.9 1228.9 1583.1 1226.6 1592 1231.8C1600.9 1237 1596 1247.4 1599.6 1256C1603.2 1264.6 1605.5 1268.3 1610 1275C1614.5 1281.7 1617 1278.5 1622 1289.7C1627 1300.9 1629.8 1313.2 1635 1330.8C1640.2 1348.4 1644.3 1358.9 1648 1377.5C1651.7 1396.1 1651.3 1403.5 1653.7 1424C1656.1 1444.5 1683.5 1468.8 1660 1480C1636.5 1491.2 1562.7 1487.4 1536 1480C1509.3 1472.6 1531.2 1461.6 1526.7 1443C1522.2 1424.4 1518.5 1409.2 1513.6 1386.8C1508.7 1364.4 1506.1 1351.4 1502.4 1330.8C1498.7 1310.2 1495 1299 1495 1284C1495 1269 1497.9 1265.3 1502.4 1256C1506.9 1246.7 1506.9 1242.6 1517.4 1237.4Z"/>
<path id="dpna" d="M1685.5 1241.1C1694.1 1235.9 1699.3 1231.8 1713.5 1229.9C1727.7 1228 1746 1225.5 1756.5 1231.8C1767 1238.1 1760.6 1250 1765.8 1261.6C1771 1273.2 1776.2 1276.6 1782.6 1289.7C1789 1302.8 1792 1311.3 1797.6 1327C1803.2 1342.7 1807.4 1352.4 1810.7 1368.1C1814 1383.8 1811.7 1383.1 1814 1405.5C1816.3 1427.9 1835 1465.1 1822 1480C1809 1494.9 1764.3 1485.6 1749 1480C1733.7 1474.4 1750.5 1456.3 1745.3 1452.2C1740.1 1448.1 1733 1465.3 1722.9 1459.7C1712.8 1454.1 1704.2 1442.5 1694.8 1424.2C1685.4 1405.9 1681.7 1388.7 1676.1 1368.1C1670.5 1347.5 1669.8 1339 1666.8 1321.4C1663.8 1303.8 1660.5 1293.4 1661.2 1280.3C1661.9 1267.2 1665.6 1263.8 1670.5 1256C1675.4 1248.2 1676.9 1246.3 1685.5 1241.1Z"/>
</defs>
<g clip-path="url(#cd1)">
<rect x="1197" y="809" width="620" height="267" fill="#000"/>
<g filter="url(#b4)" opacity=".28"><path d="M1335 890q22 -8 22 30v60q-6 30 -22 20zM1205 905q10 -10 14 4l-6 20z" fill="#888"/></g>
<g filter="url(#b2)"><use href="#dp1" fill="url(#gg1)"/></g>
<use href="#dp1c" fill="url(#gr1)" filter="url(#fni1)" transform="translate(147.7 0)"/>
<use href="#dp1c" fill="url(#ga1)" filter="url(#fal1)" transform="translate(297.1 1.5)"/>
<use href="#dp1c" fill="url(#gy1)" filter="url(#fna1)" transform="translate(460.6 1.5)"/>
</g>
<text x="1371.6" y="834" font-size="25" class="cr" fill="#f00" textLength="23.5" lengthAdjust="spacingAndGlyphs">Ni</text>
<text x="1510.5" y="834" font-size="25" class="cr" fill="#00b050" textLength="21.5" lengthAdjust="spacingAndGlyphs">Al</text>
<text x="1669.8" y="834" font-size="25" class="cr" fill="#f00" textLength="23.5" lengthAdjust="spacingAndGlyphs">Ni</text>
<text x="1697" y="834" font-size="25" class="cr" fill="#00b050" textLength="21.5" lengthAdjust="spacingAndGlyphs">Al</text>
<rect x="1204.6" y="1065.8" width="45" height="4.6" fill="#fff"/>
<text x="1203" y="1061" font-size="13.5" class="cb" fill="#fff" textLength="47.5" lengthAdjust="spacingAndGlyphs">200 nm</text>
<polygon points="1193.33,980.43 1227.68,961.19 1229.47,964.37 1238,953 1223.85,954.34 1225.63,957.52 1191.27,976.77" fill="#ff0000"/>
<g clip-path="url(#cd2)">
<rect x="1186" y="1206" width="631" height="268" fill="#000"/>
<g clip-path="url(#cd2a)"><g filter="url(#b8)"><use href="#dp2" fill="url(#gg2)"/><path d="M1222 1228l58 2 10 38 -70 -6z" fill="#8a8a8a" opacity=".45"/></g><g filter="url(#b4)"><path d="M1282 1412q12 -6 20 10l34 60h-52l-8 -50z" fill="#f2f2f2"/><path d="M1228 1432h50l4 20h-50z" fill="#cfcfcf"/></g></g>
<g clip-path="url(#cd2b)"><use href="#dp2c" fill="url(#gr2)" filter="url(#fni2)"/></g>
<g clip-path="url(#cd2c)"><rect x="1491.2" y="1206" width="164" height="268" filter="url(#spo)"/><use href="#dpal" fill="#0f720f" filter="url(#fal2)"/><path d="M1541 1474l5 -5 6 2 4 -4 5 7z" fill="#30e030" filter="url(#b2)"/></g>
<g clip-path="url(#cd2d)"><rect x="1654.7" y="1206" width="162" height="268" filter="url(#spo)"/><g filter="url(#b4)"><path d="M1790 1400q20 -10 30 10v60h-45z" fill="#4a9a18"/></g><use href="#dpna" fill="#dc6414" filter="url(#fna2)"/><path d="M1702 1474l5 -5 6 2 4 -4 5 7z" fill="#30e030" filter="url(#b2)"/></g>
</g>
<text x="1360" y="1232.2" font-size="25" class="cr" fill="#f00" textLength="23.5" lengthAdjust="spacingAndGlyphs">Ni</text>
<text x="1510.5" y="1232.2" font-size="25" class="cr" fill="#00a060" textLength="21.5" lengthAdjust="spacingAndGlyphs">Al</text>
<text x="1670.5" y="1232.2" font-size="25" class="cr" fill="#f00" textLength="23.5" lengthAdjust="spacingAndGlyphs">Ni</text>
<text x="1698.6" y="1232.2" font-size="25" class="cr" fill="#00a060" textLength="21.5" lengthAdjust="spacingAndGlyphs">Al</text>
<rect x="1194" y="1464.3" width="61.6" height="4.5" fill="#fff"/>
<text x="1198.3" y="1460.7" font-size="13.5" class="cb" fill="#fff" textLength="47.7" lengthAdjust="spacingAndGlyphs">500 nm</text>
<path d="M1385 1081H1423.2V1149.4H1442.8L1404.1 1188.5L1366 1149.4H1385Z" fill="#4f81bd" stroke="#3a5f8f" stroke-width="1.5" stroke-linejoin="miter"/>
<text x="1062.3" y="853.7" font-size="44" class="cb" textLength="40" lengthAdjust="spacingAndGlyphs">d)</text>
<text x="1108.7" y="1001.9" font-size="22.5" class="cb" textLength="58.3" lengthAdjust="spacingAndGlyphs">single</text>
<text x="1108.7" y="1031.7" font-size="22.5" class="cb" textLength="77.3" lengthAdjust="spacingAndGlyphs">catalyst</text>
<text x="1108.7" y="1060.9" font-size="22.5" class="cb" textLength="76.5" lengthAdjust="spacingAndGlyphs">particle</text>
<text x="1236.8" y="1118.1" font-size="27.8" class="cb" textLength="130.4" lengthAdjust="spacingAndGlyphs">aluminum</text>
<text x="1236.8" y="1154.9" font-size="27.8" class="cb" textLength="106.8" lengthAdjust="spacingAndGlyphs">leaching</text>
<text x="1485.3" y="1121" font-size="27.5" class="cb" textLength="159.5" lengthAdjust="spacingAndGlyphs">at%: Ni<tspan dy="5" font-size="17.5">34</tspan><tspan dy="-5" font-size="27.5">Al</tspan><tspan dy="5" font-size="17.5">66</tspan></text>
<text x="1486" y="1517.7" font-size="27.5" class="cb" textLength="149.3" lengthAdjust="spacingAndGlyphs">at%: Ni<tspan dy="5" font-size="17.5">93</tspan><tspan dy="-5" font-size="27.5">Al</tspan><tspan dy="5" font-size="17.5">7</tspan></text>
</g>
</svg>
</body></html>
